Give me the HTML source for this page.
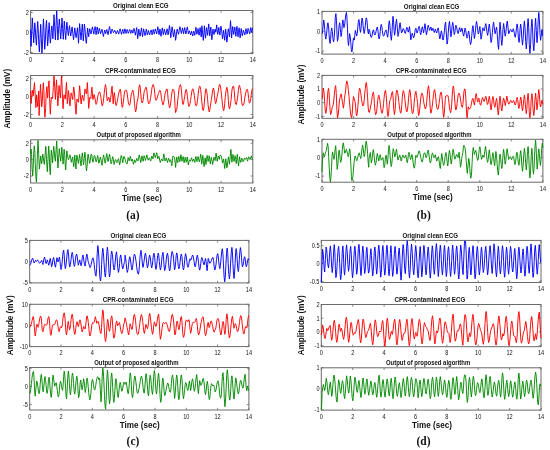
<!DOCTYPE html>
<html><head><meta charset="utf-8"><title>ECG figure</title>
<style>html,body{margin:0;padding:0;background:#fff;width:550px;height:450px;overflow:hidden}
svg text{font-family:"Liberation Sans", Arial, Helvetica, sans-serif}
svg text.lab{font-family:"Liberation Serif", "Times New Roman", serif}</style></head>
<body>
<svg width="550" height="450" viewBox="0 0 550 450" style="position:absolute;left:0;top:0">
<rect width="550" height="450" fill="#ffffff"/>
<defs><filter id="bl" x="-5%" y="-5%" width="110%" height="110%"><feGaussianBlur stdDeviation="0.3"/></filter></defs>
<rect x="30.6" y="10.5" width="222.2" height="43.1" fill="none" stroke="#6a6a6a" stroke-width="1"/>
<path d="M30.6 53.6 v-2.2 M30.6 10.5 v2.2" stroke="#6a6a6a" stroke-width="0.8"/>
<text x="30.6" y="62.2" font-size="6.3" text-anchor="middle" textLength="3.11" lengthAdjust="spacingAndGlyphs" fill="#151515">0</text>
<path d="M62.3 53.6 v-2.2 M62.3 10.5 v2.2" stroke="#6a6a6a" stroke-width="0.8"/>
<text x="62.3" y="62.2" font-size="6.3" text-anchor="middle" textLength="3.11" lengthAdjust="spacingAndGlyphs" fill="#151515">2</text>
<path d="M94.1 53.6 v-2.2 M94.1 10.5 v2.2" stroke="#6a6a6a" stroke-width="0.8"/>
<text x="94.1" y="62.2" font-size="6.3" text-anchor="middle" textLength="3.11" lengthAdjust="spacingAndGlyphs" fill="#151515">4</text>
<path d="M125.8 53.6 v-2.2 M125.8 10.5 v2.2" stroke="#6a6a6a" stroke-width="0.8"/>
<text x="125.8" y="62.2" font-size="6.3" text-anchor="middle" textLength="3.11" lengthAdjust="spacingAndGlyphs" fill="#151515">6</text>
<path d="M157.6 53.6 v-2.2 M157.6 10.5 v2.2" stroke="#6a6a6a" stroke-width="0.8"/>
<text x="157.6" y="62.2" font-size="6.3" text-anchor="middle" textLength="3.11" lengthAdjust="spacingAndGlyphs" fill="#151515">8</text>
<path d="M189.3 53.6 v-2.2 M189.3 10.5 v2.2" stroke="#6a6a6a" stroke-width="0.8"/>
<text x="189.3" y="62.2" font-size="6.3" text-anchor="middle" textLength="6.23" lengthAdjust="spacingAndGlyphs" fill="#151515">10</text>
<path d="M221.1 53.6 v-2.2 M221.1 10.5 v2.2" stroke="#6a6a6a" stroke-width="0.8"/>
<text x="221.1" y="62.2" font-size="6.3" text-anchor="middle" textLength="6.23" lengthAdjust="spacingAndGlyphs" fill="#151515">12</text>
<path d="M252.8 53.6 v-2.2 M252.8 10.5 v2.2" stroke="#6a6a6a" stroke-width="0.8"/>
<text x="252.8" y="62.2" font-size="6.3" text-anchor="middle" textLength="6.23" lengthAdjust="spacingAndGlyphs" fill="#151515">14</text>
<path d="M30.6 52.5 h2.2 M252.8 52.5 h-2.2" stroke="#6a6a6a" stroke-width="0.8"/>
<text x="28.8" y="54.8" font-size="6.3" text-anchor="end" textLength="4.98" lengthAdjust="spacingAndGlyphs" fill="#151515">-2</text>
<path d="M30.6 32.5 h2.2 M252.8 32.5 h-2.2" stroke="#6a6a6a" stroke-width="0.8"/>
<text x="28.8" y="34.8" font-size="6.3" text-anchor="end" textLength="3.11" lengthAdjust="spacingAndGlyphs" fill="#151515">0</text>
<path d="M30.6 12.5 h2.2 M252.8 12.5 h-2.2" stroke="#6a6a6a" stroke-width="0.8"/>
<text x="28.8" y="14.8" font-size="6.3" text-anchor="end" textLength="3.11" lengthAdjust="spacingAndGlyphs" fill="#151515">2</text>
<polyline fill="none" stroke="#0000ff" stroke-width="0.95" stroke-linejoin="round" filter="url(#bl)" points="30.6,29.4 31.1,46.3 31.7,32.1 32.3,17.9 33.0,30.5 33.7,42.9 34.3,32.6 34.8,22.8 35.3,28.5 35.9,39.7 36.4,45.2 37.0,33.3 37.7,21.4 38.2,28.8 38.8,44.4 39.4,52.0 40.0,38.2 40.7,24.3 41.3,38.7 41.9,53.2 42.5,44.8 43.0,27.9 43.5,18.9 44.1,33.9 44.7,49.3 45.3,42.2 45.9,27.5 46.5,20.2 47.1,33.0 47.6,45.7 48.1,40.0 48.7,28.4 49.2,22.6 49.7,33.0 50.3,43.1 50.8,38.7 51.3,30.2 51.9,25.9 52.4,32.4 52.9,38.8 53.5,26.6 54.0,14.7 54.7,27.3 55.4,39.9 56.0,25.7 56.7,10.9 57.3,25.3 57.9,40.1 58.6,29.5 59.3,19.0 60.0,29.0 60.7,39.0 61.4,28.5 62.0,18.0 62.6,28.6 63.3,39.3 63.8,30.0 64.3,21.2 65.0,30.6 65.7,39.5 66.3,30.6 66.8,22.1 67.3,25.7 67.9,32.4 68.4,35.5 68.9,30.4 69.5,25.7 70.1,30.9 70.7,36.0 71.4,31.5 72.1,26.9 72.8,33.2 73.5,39.7 74.2,33.7 74.8,27.8 75.4,32.9 76.1,37.7 76.8,32.9 77.5,27.7 78.0,35.5 78.5,43.2 79.1,33.3 79.6,23.6 80.3,31.6 81.0,39.9 81.6,32.1 82.3,24.1 82.8,32.5 83.3,41.0 83.9,32.6 84.4,24.1 85.0,29.0 85.7,38.6 86.3,43.3 87.0,35.6 87.6,28.0 88.1,32.4 88.7,36.7 89.2,32.7 89.7,28.7 90.4,31.4 91.0,33.9 91.7,30.5 92.4,26.9 93.1,30.3 93.8,34.1 94.4,30.4 95.1,26.6 95.6,30.7 96.1,34.7 96.7,30.6 97.2,27.0 97.7,30.6 98.3,34.1 98.8,31.2 99.3,28.3 100.0,31.0 100.6,33.7 101.3,31.4 102.0,29.3 102.7,32.8 103.4,36.5 104.0,33.4 104.7,30.0 105.2,31.9 105.7,33.6 106.3,31.6 106.8,29.5 107.4,32.1 108.1,34.7 108.8,30.4 109.5,26.6 110.2,30.4 110.9,33.8 111.5,31.4 112.1,29.1 112.8,30.6 113.4,32.7 114.1,31.9 114.8,30.3 115.5,31.8 116.2,33.9 116.8,32.3 117.5,30.5 118.1,32.3 118.7,34.1 119.4,31.5 120.1,28.8 120.8,31.7 121.5,34.3 122.2,31.8 122.8,29.4 123.3,31.6 123.9,33.6 124.4,31.2 124.9,28.8 125.5,31.1 126.0,33.5 126.5,31.5 127.1,29.5 127.7,31.5 128.3,33.3 129.0,31.4 129.7,29.5 130.3,31.3 130.8,33.4 131.3,31.6 131.9,29.9 132.4,31.9 132.9,33.1 133.5,30.6 134.0,28.3 134.7,31.6 135.4,35.2 136.0,31.4 136.7,27.6 137.2,33.1 137.7,38.6 138.3,33.9 138.8,29.1 139.4,32.7 140.1,36.2 140.8,31.8 141.5,27.9 142.0,32.4 142.5,36.7 143.1,32.8 143.6,28.8 144.3,32.1 145.0,35.6 145.6,32.6 146.3,29.1 146.8,31.8 147.3,35.0 147.9,32.7 148.4,30.5 149.0,32.9 149.7,34.8 150.4,32.3 151.1,29.9 151.6,32.4 152.1,34.9 152.7,32.3 153.2,29.5 153.7,31.7 154.3,34.1 154.8,31.5 155.3,28.9 156.0,31.3 156.7,33.9 157.3,30.4 157.8,26.7 158.4,30.6 159.1,34.7 159.9,29.0 160.5,32.7 161.0,36.3 161.6,32.0 162.3,27.9 162.8,31.5 163.3,34.6 163.9,31.8 164.4,29.1 165.0,32.0 165.7,34.9 166.4,32.0 167.1,28.8 167.6,31.5 168.1,34.8 168.8,30.3 169.5,25.5 170.2,31.5 170.8,37.7 171.4,32.4 172.1,26.8 172.8,31.6 173.5,36.8 174.0,33.3 174.5,29.6 175.1,34.9 175.6,40.3 176.1,37.1 176.7,31.4 177.2,29.1 177.8,31.9 178.5,34.3 179.2,30.4 179.9,26.7 180.6,29.8 181.3,33.5 181.9,31.0 182.5,27.9 183.1,31.0 183.6,33.9 184.1,30.8 184.7,27.6 185.3,30.6 185.9,34.0 186.6,30.4 187.3,26.9 187.9,30.6 188.4,33.9 188.9,32.2 189.5,30.8 190.0,32.7 190.5,34.9 191.1,33.2 191.6,31.2 192.1,33.8 192.7,36.0 193.2,33.6 193.7,31.1 194.3,33.2 194.8,35.3 195.3,31.3 195.9,27.3 196.4,30.7 196.9,34.2 197.5,31.3 198.0,28.5 198.5,32.0 199.1,35.2 199.6,31.3 200.1,27.6 200.7,32.2 201.2,36.9 201.9,25.8 202.6,32.9 203.3,40.4 203.9,32.9 204.4,25.8 204.9,32.1 205.5,38.2 206.0,32.8 206.5,27.6 207.1,31.5 207.6,35.3 208.1,29.8 208.7,23.9 209.2,29.7 209.7,35.9 210.3,31.7 210.8,27.1 211.3,33.3 211.9,39.7 212.4,34.3 212.9,29.1 213.5,31.7 214.0,34.6 214.5,31.9 215.1,29.1 215.8,32.3 216.7,24.9 217.2,29.8 217.7,34.4 218.3,30.8 218.8,27.4 219.3,31.5 219.9,35.1 220.4,30.5 220.9,26.2 221.5,29.0 222.0,33.9 222.5,38.8 223.1,34.4 223.6,30.2 224.1,35.4 224.7,40.3 225.2,34.7 225.7,29.0 226.3,35.3 226.8,42.1 227.3,39.0 227.9,32.1 228.4,28.7 228.9,32.6 229.5,36.9 230.0,29.1 230.5,20.7 231.1,29.1 231.6,37.9 232.1,32.2 232.7,26.5 233.2,30.6 233.7,34.4 234.3,30.6 234.8,27.1 235.3,31.8 235.9,36.3 236.4,31.3 236.9,26.3 237.5,31.6 238.0,36.8 238.5,32.3 239.1,27.8 239.6,32.8 240.1,37.9 240.7,33.4 241.2,28.6 241.7,32.1 242.3,35.8 242.8,33.2 243.3,30.2 243.9,31.5 244.4,34.0 244.9,34.9 245.5,31.5 246.0,28.6 246.5,31.8 247.1,34.1 247.6,31.1 248.1,28.4 248.7,29.6 249.2,32.3 249.7,33.8 250.3,30.7 250.8,27.6 251.3,30.2 251.9,32.4 252.4,28.0 252.8,28.1"/>
<text x="140.8" y="7.9" font-size="6.6" font-weight="bold" text-anchor="middle" textLength="55.6" lengthAdjust="spacingAndGlyphs" fill="#111">Original clean ECG</text>
<rect x="30.6" y="75.5" width="222.2" height="42.8" fill="none" stroke="#6a6a6a" stroke-width="1"/>
<path d="M30.6 118.3 v-2.2 M30.6 75.5 v2.2" stroke="#6a6a6a" stroke-width="0.8"/>
<text x="30.6" y="126.9" font-size="6.3" text-anchor="middle" textLength="3.11" lengthAdjust="spacingAndGlyphs" fill="#151515">0</text>
<path d="M62.3 118.3 v-2.2 M62.3 75.5 v2.2" stroke="#6a6a6a" stroke-width="0.8"/>
<text x="62.3" y="126.9" font-size="6.3" text-anchor="middle" textLength="3.11" lengthAdjust="spacingAndGlyphs" fill="#151515">2</text>
<path d="M94.1 118.3 v-2.2 M94.1 75.5 v2.2" stroke="#6a6a6a" stroke-width="0.8"/>
<text x="94.1" y="126.9" font-size="6.3" text-anchor="middle" textLength="3.11" lengthAdjust="spacingAndGlyphs" fill="#151515">4</text>
<path d="M125.8 118.3 v-2.2 M125.8 75.5 v2.2" stroke="#6a6a6a" stroke-width="0.8"/>
<text x="125.8" y="126.9" font-size="6.3" text-anchor="middle" textLength="3.11" lengthAdjust="spacingAndGlyphs" fill="#151515">6</text>
<path d="M157.6 118.3 v-2.2 M157.6 75.5 v2.2" stroke="#6a6a6a" stroke-width="0.8"/>
<text x="157.6" y="126.9" font-size="6.3" text-anchor="middle" textLength="3.11" lengthAdjust="spacingAndGlyphs" fill="#151515">8</text>
<path d="M189.3 118.3 v-2.2 M189.3 75.5 v2.2" stroke="#6a6a6a" stroke-width="0.8"/>
<text x="189.3" y="126.9" font-size="6.3" text-anchor="middle" textLength="6.23" lengthAdjust="spacingAndGlyphs" fill="#151515">10</text>
<path d="M221.1 118.3 v-2.2 M221.1 75.5 v2.2" stroke="#6a6a6a" stroke-width="0.8"/>
<text x="221.1" y="126.9" font-size="6.3" text-anchor="middle" textLength="6.23" lengthAdjust="spacingAndGlyphs" fill="#151515">12</text>
<path d="M252.8 118.3 v-2.2 M252.8 75.5 v2.2" stroke="#6a6a6a" stroke-width="0.8"/>
<text x="252.8" y="126.9" font-size="6.3" text-anchor="middle" textLength="6.23" lengthAdjust="spacingAndGlyphs" fill="#151515">14</text>
<path d="M30.6 114.5 h2.2 M252.8 114.5 h-2.2" stroke="#6a6a6a" stroke-width="0.8"/>
<text x="28.8" y="116.8" font-size="6.3" text-anchor="end" textLength="4.98" lengthAdjust="spacingAndGlyphs" fill="#151515">-2</text>
<path d="M30.6 96.6 h2.2 M252.8 96.6 h-2.2" stroke="#6a6a6a" stroke-width="0.8"/>
<text x="28.8" y="98.9" font-size="6.3" text-anchor="end" textLength="3.11" lengthAdjust="spacingAndGlyphs" fill="#151515">0</text>
<path d="M30.6 78.7 h2.2 M252.8 78.7 h-2.2" stroke="#6a6a6a" stroke-width="0.8"/>
<text x="28.8" y="81.0" font-size="6.3" text-anchor="end" textLength="3.11" lengthAdjust="spacingAndGlyphs" fill="#151515">2</text>
<polyline fill="none" stroke="#ff0000" stroke-width="0.95" stroke-linejoin="round" filter="url(#bl)" points="30.6,90.7 31.1,103.5 31.7,97.0 32.3,90.2 33.2,95.9 33.8,89.2 34.5,82.6 35.2,95.3 35.9,107.7 36.6,94.9 37.1,100.5 37.7,106.5 38.2,99.0 38.7,91.2 39.1,115.6 39.8,99.4 40.5,84.4 41.1,95.5 41.7,106.9 42.3,101.8 42.8,89.9 43.3,82.8 43.9,90.7 44.4,108.8 44.9,117.2 45.6,108.5 46.2,93.3 46.9,86.6 47.6,98.1 48.3,88.5 49.0,80.8 49.6,98.4 50.3,114.2 50.8,104.8 51.3,97.0 52.0,98.5 52.6,98.4 53.3,87.4 54.0,75.8 54.7,86.9 55.4,99.4 55.9,89.6 56.5,79.8 57.2,93.0 57.9,105.8 58.5,95.5 59.0,85.5 59.7,91.7 60.4,98.0 60.9,87.1 61.5,75.8 62.0,83.5 62.5,99.7 63.1,108.7 63.9,94.8 64.6,95.4 65.2,99.1 65.8,91.7 66.5,82.4 67.3,103.6 67.9,97.7 68.4,90.6 68.9,94.1 69.5,102.0 70.0,105.9 70.5,99.5 71.1,92.8 71.6,93.5 72.1,96.9 72.7,99.6 73.2,93.2 73.7,87.0 74.3,90.7 74.9,99.4 75.5,109.5 76.1,114.3 76.9,99.0 77.5,100.0 78.0,101.7 78.5,102.1 79.1,93.5 79.6,85.7 80.1,91.1 80.7,100.4 81.2,104.0 81.7,98.9 82.3,95.2 82.8,97.1 83.3,99.5 83.9,100.7 84.4,95.0 84.9,88.9 85.6,90.5 86.3,93.8 86.9,89.0 87.4,82.5 88.0,94.5 88.7,108.4 89.2,103.5 89.7,97.5 90.3,97.6 90.8,98.5 91.3,93.5 91.9,87.2 92.4,92.9 92.9,99.5 93.5,97.0 94.0,94.5 94.5,96.1 95.1,99.0 95.6,102.4 96.1,104.4 96.7,103.4 97.2,100.2 97.7,96.9 98.3,94.3 98.8,93.1 99.3,91.9 99.9,92.1 100.4,94.3 100.9,97.4 101.5,101.9 102.0,105.5 102.5,105.8 103.1,102.9 103.7,98.1 104.3,92.6 104.9,87.3 105.5,84.5 106.1,87.9 106.7,96.0 107.3,100.8 107.9,99.5 108.4,97.5 108.9,97.3 109.5,100.1 110.0,102.2 110.5,99.3 111.1,94.7 111.6,89.0 112.1,86.2 112.7,96.0 113.2,103.7 113.7,97.0 114.3,92.6 114.8,96.0 115.3,101.7 115.9,105.2 116.4,105.4 116.9,103.2 117.5,99.9 118.0,97.3 118.5,94.2 119.1,92.0 119.6,90.5 120.1,89.2 120.7,91.0 121.2,97.4 121.7,104.5 122.3,107.4 122.8,106.0 123.3,102.0 123.9,97.2 124.4,92.9 124.9,90.9 125.5,90.2 126.0,90.2 126.5,90.4 127.1,93.0 127.8,98.6 128.4,102.9 129.0,104.8 129.6,105.3 130.1,103.6 130.7,99.2 131.2,94.9 131.8,92.9 132.4,91.1 132.9,90.2 133.5,92.5 134.0,97.1 134.5,103.5 135.1,109.2 135.6,111.8 136.1,110.2 136.7,105.2 137.2,101.2 137.7,100.0 138.4,95.0 139.0,87.1 139.7,84.7 140.2,87.1 140.8,93.8 141.4,100.6 142.0,103.0 142.5,102.5 143.1,100.4 143.6,96.1 144.1,92.2 144.7,90.3 145.2,88.9 145.7,87.4 146.3,87.4 146.8,90.1 147.3,95.0 147.9,100.2 148.4,103.4 148.9,103.8 149.5,102.9 150.0,101.1 150.5,98.4 151.1,94.9 151.6,90.3 152.1,87.2 152.7,85.1 153.2,84.5 153.7,85.8 154.3,88.7 154.8,93.8 155.3,98.3 155.9,100.3 156.4,100.1 156.9,98.9 157.5,96.8 158.0,94.7 158.5,93.5 159.1,91.9 159.6,90.6 160.1,90.4 160.7,92.4 161.2,96.0 161.7,99.3 162.3,102.8 162.8,104.8 163.3,104.5 163.9,101.9 164.4,98.3 164.9,94.7 165.5,92.2 166.0,90.8 166.5,89.2 167.1,89.0 167.6,92.7 168.1,98.7 168.7,103.1 169.2,106.4 169.7,107.9 170.3,105.7 170.8,102.1 171.3,97.3 171.9,93.0 172.4,90.4 172.9,89.1 173.5,90.3 174.0,90.4 174.5,95.8 175.1,107.6 175.6,112.6 176.1,111.0 176.7,109.4 177.2,106.1 177.7,100.8 178.3,95.5 178.8,90.7 179.3,87.4 179.9,85.9 180.4,84.5 180.9,85.9 181.5,91.2 182.0,97.8 182.5,103.1 183.1,104.5 183.6,102.9 184.1,99.8 184.7,96.4 185.2,93.1 185.7,90.2 186.3,89.4 186.8,91.5 187.3,95.8 187.9,100.3 188.4,104.7 188.9,106.6 189.5,105.6 190.0,103.8 190.5,100.7 191.1,96.5 191.6,92.9 192.1,90.1 192.7,88.8 193.2,89.3 193.7,91.8 194.3,95.4 194.8,99.6 195.3,103.6 195.9,105.6 196.4,105.8 196.9,104.4 197.5,100.7 198.0,95.8 198.5,90.9 199.1,87.7 199.6,86.2 200.1,86.5 200.7,89.5 201.2,94.7 201.7,100.7 202.3,106.3 202.8,109.9 203.3,110.5 203.9,107.7 204.4,102.0 204.9,95.9 205.5,90.9 206.0,88.7 206.5,90.3 207.1,94.1 207.6,99.3 208.1,104.8 208.7,109.6 209.2,111.9 209.7,110.4 210.3,106.8 210.8,103.1 211.3,99.6 211.9,96.1 212.4,92.3 212.9,89.4 213.5,88.0 214.0,90.0 214.5,95.7 215.1,101.4 215.6,103.6 216.1,102.2 216.7,99.3 217.2,96.5 217.7,93.9 218.3,91.2 218.8,87.7 219.3,84.7 219.9,84.5 220.4,85.9 220.9,89.6 221.5,94.9 222.0,100.1 222.5,104.9 223.1,108.9 223.6,110.7 224.1,109.2 224.7,103.7 225.2,97.6 225.7,93.2 226.3,89.5 226.8,87.3 227.3,88.6 227.9,93.7 228.4,100.7 228.9,107.2 229.5,108.9 230.0,107.0 230.5,104.0 231.1,99.7 231.6,94.0 232.1,89.0 232.7,87.0 233.2,86.1 233.7,86.5 234.3,91.5 234.8,98.5 235.3,102.8 235.9,104.4 236.4,104.6 236.9,101.7 237.5,97.8 238.0,94.1 238.5,89.2 239.1,85.6 239.6,85.5 240.1,87.9 240.7,90.5 241.2,95.1 241.7,101.4 242.3,105.5 242.8,105.6 243.3,104.9 243.9,104.0 244.4,101.2 244.9,97.0 245.5,94.0 246.0,91.8 246.5,90.1 247.1,89.2 247.6,90.2 248.1,93.4 248.7,98.4 249.2,102.7 249.7,103.0 250.3,101.2 250.8,98.4 251.4,94.2 252.0,89.7 252.5,88.6 252.8,89.1"/>
<text x="140.5" y="72.9" font-size="6.6" font-weight="bold" text-anchor="middle" textLength="70.9" lengthAdjust="spacingAndGlyphs" fill="#111">CPR-contaminated ECG</text>
<rect x="30.6" y="139.8" width="222.2" height="43.2" fill="none" stroke="#6a6a6a" stroke-width="1"/>
<path d="M30.6 183.0 v-2.2 M30.6 139.8 v2.2" stroke="#6a6a6a" stroke-width="0.8"/>
<text x="30.6" y="191.6" font-size="6.3" text-anchor="middle" textLength="3.11" lengthAdjust="spacingAndGlyphs" fill="#151515">0</text>
<path d="M62.3 183.0 v-2.2 M62.3 139.8 v2.2" stroke="#6a6a6a" stroke-width="0.8"/>
<text x="62.3" y="191.6" font-size="6.3" text-anchor="middle" textLength="3.11" lengthAdjust="spacingAndGlyphs" fill="#151515">2</text>
<path d="M94.1 183.0 v-2.2 M94.1 139.8 v2.2" stroke="#6a6a6a" stroke-width="0.8"/>
<text x="94.1" y="191.6" font-size="6.3" text-anchor="middle" textLength="3.11" lengthAdjust="spacingAndGlyphs" fill="#151515">4</text>
<path d="M125.8 183.0 v-2.2 M125.8 139.8 v2.2" stroke="#6a6a6a" stroke-width="0.8"/>
<text x="125.8" y="191.6" font-size="6.3" text-anchor="middle" textLength="3.11" lengthAdjust="spacingAndGlyphs" fill="#151515">6</text>
<path d="M157.6 183.0 v-2.2 M157.6 139.8 v2.2" stroke="#6a6a6a" stroke-width="0.8"/>
<text x="157.6" y="191.6" font-size="6.3" text-anchor="middle" textLength="3.11" lengthAdjust="spacingAndGlyphs" fill="#151515">8</text>
<path d="M189.3 183.0 v-2.2 M189.3 139.8 v2.2" stroke="#6a6a6a" stroke-width="0.8"/>
<text x="189.3" y="191.6" font-size="6.3" text-anchor="middle" textLength="6.23" lengthAdjust="spacingAndGlyphs" fill="#151515">10</text>
<path d="M221.1 183.0 v-2.2 M221.1 139.8 v2.2" stroke="#6a6a6a" stroke-width="0.8"/>
<text x="221.1" y="191.6" font-size="6.3" text-anchor="middle" textLength="6.23" lengthAdjust="spacingAndGlyphs" fill="#151515">12</text>
<path d="M252.8 183.0 v-2.2 M252.8 139.8 v2.2" stroke="#6a6a6a" stroke-width="0.8"/>
<text x="252.8" y="191.6" font-size="6.3" text-anchor="middle" textLength="6.23" lengthAdjust="spacingAndGlyphs" fill="#151515">14</text>
<path d="M30.6 176.0 h2.2 M252.8 176.0 h-2.2" stroke="#6a6a6a" stroke-width="0.8"/>
<text x="28.8" y="178.3" font-size="6.3" text-anchor="end" textLength="4.98" lengthAdjust="spacingAndGlyphs" fill="#151515">-2</text>
<path d="M30.6 159.6 h2.2 M252.8 159.6 h-2.2" stroke="#6a6a6a" stroke-width="0.8"/>
<text x="28.8" y="161.9" font-size="6.3" text-anchor="end" textLength="3.11" lengthAdjust="spacingAndGlyphs" fill="#151515">0</text>
<path d="M30.6 143.3 h2.2 M252.8 143.3 h-2.2" stroke="#6a6a6a" stroke-width="0.8"/>
<text x="28.8" y="145.6" font-size="6.3" text-anchor="end" textLength="3.11" lengthAdjust="spacingAndGlyphs" fill="#151515">2</text>
<polyline fill="none" stroke="#008a00" stroke-width="0.95" stroke-linejoin="round" filter="url(#bl)" points="30.6,153.6 31.1,149.1 31.6,154.7 32.1,168.1 32.7,175.9 33.2,168.5 33.7,153.6 34.3,145.8 34.8,151.1 35.3,164.6 35.9,176.8 36.4,182.1 36.9,171.8 37.5,150.6 38.0,140.4 38.7,154.6 39.4,169.1 40.0,162.7 40.7,156.0 41.2,160.3 41.7,163.7 42.3,158.5 42.8,154.2 43.3,157.3 43.9,162.4 44.4,164.4 45.1,155.1 45.8,146.3 46.5,159.3 47.3,171.7 48.0,158.8 48.7,146.0 49.2,153.2 49.7,168.0 50.3,174.7 50.8,162.3 51.3,150.2 52.0,156.4 52.6,162.9 53.1,154.5 53.7,146.4 54.2,150.5 54.8,158.0 55.4,161.3 56.0,151.1 56.7,141.0 57.3,154.5 57.9,168.0 58.6,158.2 59.3,148.6 60.0,155.0 60.7,161.1 61.3,154.3 61.8,147.2 62.4,155.2 63.1,164.1 63.6,156.5 64.1,149.3 64.7,154.7 65.2,164.7 65.7,170.0 66.3,160.0 66.8,150.8 67.3,153.6 67.9,157.4 68.4,159.6 68.9,158.5 69.5,156.4 70.0,154.8 70.7,158.4 71.4,162.3 72.0,159.1 72.7,156.9 73.2,162.2 73.7,166.7 74.3,160.6 74.8,155.1 75.3,162.5 75.9,169.0 76.4,161.6 76.9,155.1 77.5,157.8 78.0,161.8 78.5,163.4 79.1,158.4 79.6,154.4 80.3,160.4 81.0,165.9 81.6,159.8 82.3,152.9 82.9,158.4 83.5,165.0 84.2,158.8 84.9,152.3 85.5,157.3 86.0,166.6 86.5,170.8 87.1,166.2 87.6,158.0 88.1,154.2 88.7,157.0 89.2,161.1 89.7,163.3 90.3,160.6 90.8,155.9 91.3,154.0 91.9,155.7 92.4,160.0 92.9,162.3 93.5,159.9 94.0,156.5 94.5,155.4 95.1,156.7 95.6,159.9 96.1,162.0 96.7,161.0 97.2,157.7 97.7,155.5 98.3,159.3 98.8,163.3 99.3,162.2 99.9,158.8 100.4,157.0 100.9,159.1 101.5,163.1 102.0,165.3 102.5,162.4 103.1,157.2 103.6,154.9 104.1,157.5 104.7,161.4 105.2,163.2 105.7,160.9 106.3,155.8 106.8,153.6 107.4,157.8 108.1,161.6 108.8,158.0 109.5,154.1 110.0,156.5 110.5,161.5 111.1,163.8 111.6,162.8 112.1,159.3 112.7,156.6 113.4,159.9 114.1,164.4 114.7,162.0 115.3,159.5 115.9,160.0 116.4,161.4 116.9,162.7 117.5,161.8 118.0,159.6 118.5,158.7 119.1,161.8 119.6,165.0 120.1,162.9 120.7,158.1 121.2,155.4 121.7,156.1 122.3,159.8 122.8,162.7 123.3,159.6 123.9,156.4 124.4,157.0 124.9,158.7 125.5,160.8 126.0,162.5 126.5,163.6 127.1,164.0 127.6,161.0 128.1,157.6 128.7,158.9 129.2,160.9 129.7,159.0 130.3,156.3 130.8,158.1 131.3,161.1 131.9,160.1 132.4,159.0 132.9,161.9 133.5,164.3 134.0,162.2 134.5,159.9 135.1,161.2 135.6,162.5 136.1,160.7 136.7,158.4 137.3,159.6 137.9,161.0 138.6,157.9 139.3,154.9 140.0,158.1 140.7,162.5 141.4,159.6 142.0,155.8 142.5,158.7 143.1,161.3 143.6,158.7 144.1,155.7 144.8,157.2 145.4,160.4 146.1,158.1 146.8,154.8 147.5,157.5 148.2,160.2 148.8,158.8 149.5,157.8 150.1,159.8 150.7,161.1 151.3,158.6 151.8,156.0 152.3,157.0 152.9,158.8 153.4,156.2 153.9,152.9 154.6,154.9 155.3,157.7 156.0,155.3 156.7,152.7 157.3,156.1 157.8,158.8 158.4,156.6 159.1,156.4 159.7,160.5 160.3,162.5 161.0,160.0 161.7,159.1 162.3,160.6 162.8,161.0 163.3,157.0 163.9,153.9 164.4,157.6 164.9,161.0 165.6,159.7 166.3,157.9 166.9,160.3 167.4,162.5 168.0,160.4 168.7,158.3 169.2,160.2 169.7,161.8 170.3,160.1 170.8,159.6 171.3,163.5 171.9,165.7 172.4,160.3 172.9,156.0 173.5,156.8 174.0,156.9 174.5,157.3 175.1,162.5 175.6,167.4 176.1,162.1 176.7,156.9 177.2,160.1 177.7,162.7 178.3,159.3 178.8,156.4 179.3,159.1 179.9,161.8 180.4,158.0 180.9,154.7 181.5,158.0 182.0,161.2 182.5,159.1 183.1,156.6 183.6,159.7 184.1,162.7 184.7,159.9 185.2,157.3 185.7,159.9 186.3,162.3 186.8,159.3 187.3,157.0 187.9,161.4 188.4,165.0 188.9,161.9 189.5,159.8 190.0,160.9 190.5,161.2 191.1,159.2 191.6,157.8 192.1,159.7 192.7,161.5 193.2,160.5 193.7,159.0 194.3,160.6 194.8,162.4 195.3,159.3 195.9,156.4 196.4,159.2 196.9,161.6 197.5,158.8 198.0,156.5 198.7,159.3 199.4,162.0 200.0,158.8 200.7,154.1 201.2,158.5 201.7,164.2 202.3,160.4 202.8,155.4 203.4,160.4 204.1,166.6 204.6,162.7 205.1,157.8 206.0,164.5 206.5,159.8 207.1,155.4 207.6,158.6 208.1,161.5 208.7,158.7 209.2,155.7 209.7,159.3 210.3,163.8 210.8,161.0 211.3,157.4 212.0,160.6 212.6,164.5 213.3,160.9 214.0,157.2 214.5,159.4 215.1,160.6 215.6,156.8 216.1,153.1 216.7,157.2 217.2,161.3 217.7,158.6 218.3,156.1 218.8,157.5 219.3,159.4 220.1,155.2 220.8,155.3 221.5,156.5 222.0,160.1 222.5,163.1 223.1,161.2 223.6,158.9 224.1,163.2 224.7,168.5 225.2,164.2 225.7,158.7 226.3,162.9 226.8,167.8 227.3,166.0 227.9,160.7 228.4,156.9 228.9,160.2 229.5,164.2 230.2,156.8 230.9,149.4 231.4,156.0 231.9,162.2 232.5,158.2 233.0,154.4 233.5,157.7 234.1,161.4 234.6,158.8 235.1,155.7 235.7,159.4 236.2,163.5 236.7,159.3 237.3,154.3 237.9,160.1 238.5,165.9 239.1,161.2 239.6,156.8 240.1,159.7 240.7,162.4 241.3,160.6 241.9,158.2 242.5,159.3 243.0,161.8 243.7,160.8 244.4,158.2 244.9,158.3 245.5,159.3 246.0,158.4 246.5,157.5 247.1,159.5 247.6,161.2 248.1,158.8 248.7,156.8 249.2,158.1 249.7,159.3 250.3,159.1 250.8,157.4 251.3,155.8 252.2,159.1 252.8,159.2"/>
<text x="138.7" y="137.2" font-size="6.6" font-weight="bold" text-anchor="middle" textLength="84.3" lengthAdjust="spacingAndGlyphs" fill="#111">Output of proposed algorithm</text>
<text x="142.0" y="201.4" font-size="8.8" font-weight="bold" text-anchor="middle" textLength="40" lengthAdjust="spacingAndGlyphs" fill="#111">Time (sec)</text>
<text transform="translate(9.5,98.7) rotate(-90)" font-size="8.6" font-weight="bold" text-anchor="middle" textLength="59.8" lengthAdjust="spacingAndGlyphs" fill="#111">Amplitude (mV)</text>
<text class="lab" x="133" y="218.6" font-size="11.5" font-weight="bold" text-anchor="middle" fill="#111">(a)</text>
<rect x="322.0" y="11.4" width="220.9" height="42.7" fill="none" stroke="#6a6a6a" stroke-width="1"/>
<path d="M322.0 54.1 v-2.2 M322.0 11.4 v2.2" stroke="#6a6a6a" stroke-width="0.8"/>
<text x="322.0" y="62.7" font-size="6.3" text-anchor="middle" textLength="3.11" lengthAdjust="spacingAndGlyphs" fill="#151515">0</text>
<path d="M353.6 54.1 v-2.2 M353.6 11.4 v2.2" stroke="#6a6a6a" stroke-width="0.8"/>
<text x="353.6" y="62.7" font-size="6.3" text-anchor="middle" textLength="3.11" lengthAdjust="spacingAndGlyphs" fill="#151515">2</text>
<path d="M385.1 54.1 v-2.2 M385.1 11.4 v2.2" stroke="#6a6a6a" stroke-width="0.8"/>
<text x="385.1" y="62.7" font-size="6.3" text-anchor="middle" textLength="3.11" lengthAdjust="spacingAndGlyphs" fill="#151515">4</text>
<path d="M416.7 54.1 v-2.2 M416.7 11.4 v2.2" stroke="#6a6a6a" stroke-width="0.8"/>
<text x="416.7" y="62.7" font-size="6.3" text-anchor="middle" textLength="3.11" lengthAdjust="spacingAndGlyphs" fill="#151515">6</text>
<path d="M448.2 54.1 v-2.2 M448.2 11.4 v2.2" stroke="#6a6a6a" stroke-width="0.8"/>
<text x="448.2" y="62.7" font-size="6.3" text-anchor="middle" textLength="3.11" lengthAdjust="spacingAndGlyphs" fill="#151515">8</text>
<path d="M479.8 54.1 v-2.2 M479.8 11.4 v2.2" stroke="#6a6a6a" stroke-width="0.8"/>
<text x="479.8" y="62.7" font-size="6.3" text-anchor="middle" textLength="6.23" lengthAdjust="spacingAndGlyphs" fill="#151515">10</text>
<path d="M511.3 54.1 v-2.2 M511.3 11.4 v2.2" stroke="#6a6a6a" stroke-width="0.8"/>
<text x="511.3" y="62.7" font-size="6.3" text-anchor="middle" textLength="6.23" lengthAdjust="spacingAndGlyphs" fill="#151515">12</text>
<path d="M542.9 54.1 v-2.2 M542.9 11.4 v2.2" stroke="#6a6a6a" stroke-width="0.8"/>
<text x="542.9" y="62.7" font-size="6.3" text-anchor="middle" textLength="6.23" lengthAdjust="spacingAndGlyphs" fill="#151515">14</text>
<path d="M322.0 51.1 h2.2 M542.9 51.1 h-2.2" stroke="#6a6a6a" stroke-width="0.8"/>
<text x="320.2" y="53.4" font-size="6.3" text-anchor="end" textLength="4.98" lengthAdjust="spacingAndGlyphs" fill="#151515">-1</text>
<path d="M322.0 31.3 h2.2 M542.9 31.3 h-2.2" stroke="#6a6a6a" stroke-width="0.8"/>
<text x="320.2" y="33.6" font-size="6.3" text-anchor="end" textLength="3.11" lengthAdjust="spacingAndGlyphs" fill="#151515">0</text>
<path d="M322.0 11.4 h2.2 M542.9 11.4 h-2.2" stroke="#6a6a6a" stroke-width="0.8"/>
<text x="320.2" y="13.7" font-size="6.3" text-anchor="end" textLength="3.11" lengthAdjust="spacingAndGlyphs" fill="#151515">1</text>
<polyline fill="none" stroke="#0000ff" stroke-width="0.95" stroke-linejoin="round" filter="url(#bl)" points="322.0,33.6 322.3,33.6 323.0,26.8 323.7,20.1 324.2,22.9 324.7,29.5 325.3,36.4 325.8,39.1 326.3,36.6 326.9,30.7 327.4,25.1 327.9,22.8 328.5,25.9 329.0,33.3 329.5,40.7 330.1,43.4 330.6,39.3 331.1,31.7 331.7,28.0 332.3,31.6 332.9,38.5 333.6,41.9 334.2,37.6 334.8,27.5 335.3,17.4 335.9,13.6 336.5,20.7 337.0,34.4 337.5,41.3 338.1,38.2 338.6,32.0 339.1,25.6 339.7,22.7 340.4,29.8 341.1,36.5 341.7,32.5 342.3,24.2 342.9,19.9 343.4,23.6 343.9,27.7 344.5,25.8 345.2,20.1 345.8,14.8 346.4,12.4 346.9,17.2 347.5,29.1 348.0,40.9 348.5,45.5 349.1,39.4 349.6,33.6 350.2,36.4 350.8,42.8 351.3,49.3 351.9,51.9 352.5,48.0 353.0,41.2 353.5,37.9 354.3,40.1 354.8,35.3 355.3,30.4 356.0,33.1 356.7,35.9 357.3,33.3 357.8,27.3 358.3,21.9 358.9,19.5 359.4,22.7 359.9,29.2 360.5,32.4 361.0,29.0 361.5,21.8 362.1,18.0 362.6,20.1 363.1,25.7 363.7,31.5 364.2,33.5 364.7,31.0 365.3,25.7 365.8,20.2 366.3,17.8 366.9,19.9 367.4,25.9 367.9,31.8 368.5,34.0 369.0,29.2 369.6,30.4 370.2,33.7 370.8,36.6 371.3,37.5 372.0,35.8 372.6,32.0 373.3,29.8 373.8,31.0 374.3,33.7 374.9,35.0 375.5,33.8 376.1,31.1 376.7,28.3 377.3,27.0 377.9,30.1 378.5,36.1 379.1,38.9 379.7,36.9 380.2,31.7 380.7,26.4 381.3,24.4 381.8,26.2 382.3,30.5 382.9,34.5 383.4,36.2 383.9,35.7 384.5,34.1 385.0,32.0 385.5,30.4 386.1,29.9 386.6,31.6 387.1,35.2 387.7,37.2 388.2,33.4 388.7,25.0 389.3,20.8 389.8,23.9 390.3,30.7 390.9,37.6 391.4,40.3 391.9,34.2 392.5,22.4 393.0,16.3 393.5,21.0 394.1,30.5 394.6,35.3 395.2,31.2 395.9,23.2 396.5,19.2 397.3,27.7 398.0,36.4 398.5,34.6 399.1,29.9 399.6,24.9 400.1,22.7 400.8,27.9 401.5,32.9 402.1,32.0 402.7,29.9 403.3,28.5 404.0,29.9 404.6,32.5 405.3,33.5 405.8,31.9 406.3,29.1 406.9,27.3 407.6,29.6 408.3,32.2 408.9,29.6 409.5,26.6 410.2,33.0 410.8,39.9 411.5,36.6 412.2,33.2 412.9,35.3 413.6,37.8 414.2,36.4 414.8,32.8 415.3,29.4 415.9,28.2 416.5,30.8 417.0,33.1 417.5,32.1 418.1,29.7 418.6,27.4 419.1,26.3 419.7,28.4 420.2,32.6 420.7,34.7 421.3,32.6 421.8,28.6 422.3,26.8 423.0,29.8 423.6,32.9 424.3,28.4 425.0,23.7 425.7,29.3 426.4,34.9 427.0,32.3 427.6,27.6 428.2,25.2 428.9,27.6 429.6,30.4 430.2,28.9 430.9,27.0 431.4,28.8 431.9,30.7 432.5,28.9 433.0,28.2 433.6,30.7 434.3,32.5 434.8,30.9 435.3,29.2 436.0,31.2 436.7,33.0 437.4,30.4 438.1,27.9 438.7,30.6 439.3,36.1 439.9,39.0 440.6,35.0 441.3,30.9 441.9,33.2 442.5,38.0 443.1,40.1 443.7,37.4 444.4,30.9 445.0,24.6 445.6,22.0 446.3,33.0 447.1,44.1 447.7,40.5 448.3,32.1 448.9,24.3 449.5,21.3 450.2,28.9 450.9,36.8 451.5,33.4 452.1,26.1 452.7,22.4 453.3,25.7 453.8,31.7 454.3,34.6 454.9,32.4 455.4,27.5 455.9,25.2 456.5,26.6 457.0,29.4 457.5,32.3 458.1,33.6 458.6,32.0 459.1,29.0 459.7,27.6 460.2,29.7 460.7,31.8 461.3,30.1 461.8,28.1 462.4,29.9 463.1,34.1 463.7,36.1 464.4,32.2 465.0,28.0 465.5,29.3 466.1,33.0 466.6,36.6 467.1,38.2 467.7,36.4 468.2,32.7 468.7,31.0 469.3,34.5 469.9,41.3 470.5,44.6 471.2,42.0 471.8,35.4 472.4,28.4 473.0,25.6 473.7,32.3 474.4,38.5 474.9,35.9 475.5,30.1 476.0,24.1 476.5,21.4 477.1,24.4 477.7,30.5 478.3,34.0 478.9,32.6 479.4,28.7 479.9,26.5 480.5,32.8 481.0,39.2 481.6,36.6 482.3,30.8 482.9,27.8 483.6,29.5 484.2,31.0 484.7,28.9 485.3,25.3 485.8,23.6 486.4,26.7 487.0,32.6 487.6,35.4 488.2,32.5 488.8,26.7 489.3,24.0 489.9,28.6 490.5,37.7 491.1,42.5 491.7,39.8 492.4,32.6 493.0,25.1 493.6,22.2 494.3,28.0 495.1,33.8 495.8,30.6 496.5,27.2 497.0,30.5 497.5,38.1 498.1,46.0 498.6,49.3 499.3,35.6 500.0,22.2 500.6,28.0 501.2,39.5 501.8,45.4 502.4,39.9 503.0,29.1 503.6,23.5 504.1,26.8 504.7,33.4 505.2,36.2 505.7,34.1 506.3,28.6 506.8,23.1 507.3,21.1 508.0,27.1 508.6,33.8 509.3,32.9 509.9,30.5 510.5,29.4 511.1,30.0 511.6,31.4 512.1,32.0 512.7,30.4 513.2,28.8 513.7,30.1 514.3,33.3 514.8,36.2 515.3,37.3 515.9,34.0 516.5,27.6 517.1,23.9 517.8,28.5 518.4,38.1 519.1,42.4 519.6,37.5 520.1,28.5 520.7,24.1 521.3,29.3 521.9,39.6 522.5,45.1 523.1,39.2 523.8,26.8 524.4,20.9 525.0,27.8 525.7,41.6 526.3,48.9 526.9,41.5 527.5,26.1 528.1,18.6 528.7,27.4 529.3,44.7 529.9,53.4 530.6,44.7 531.2,27.9 531.9,19.2 532.5,27.1 533.1,43.1 533.8,50.8 534.4,42.9 535.0,26.6 535.6,18.3 536.3,30.6 537.0,42.7 537.6,35.2 538.2,20.0 538.8,12.4 539.4,19.7 540.0,33.5 540.6,40.3 541.3,34.9 542.0,29.4 542.5,35.7 542.9,35.7"/>
<text x="431.6" y="8.8" font-size="6.6" font-weight="bold" text-anchor="middle" textLength="55.6" lengthAdjust="spacingAndGlyphs" fill="#111">Original clean ECG</text>
<rect x="322.0" y="75.4" width="220.9" height="42.9" fill="none" stroke="#6a6a6a" stroke-width="1"/>
<path d="M322.0 118.3 v-2.2 M322.0 75.4 v2.2" stroke="#6a6a6a" stroke-width="0.8"/>
<text x="322.0" y="126.9" font-size="6.3" text-anchor="middle" textLength="3.11" lengthAdjust="spacingAndGlyphs" fill="#151515">0</text>
<path d="M353.6 118.3 v-2.2 M353.6 75.4 v2.2" stroke="#6a6a6a" stroke-width="0.8"/>
<text x="353.6" y="126.9" font-size="6.3" text-anchor="middle" textLength="3.11" lengthAdjust="spacingAndGlyphs" fill="#151515">2</text>
<path d="M385.1 118.3 v-2.2 M385.1 75.4 v2.2" stroke="#6a6a6a" stroke-width="0.8"/>
<text x="385.1" y="126.9" font-size="6.3" text-anchor="middle" textLength="3.11" lengthAdjust="spacingAndGlyphs" fill="#151515">4</text>
<path d="M416.7 118.3 v-2.2 M416.7 75.4 v2.2" stroke="#6a6a6a" stroke-width="0.8"/>
<text x="416.7" y="126.9" font-size="6.3" text-anchor="middle" textLength="3.11" lengthAdjust="spacingAndGlyphs" fill="#151515">6</text>
<path d="M448.2 118.3 v-2.2 M448.2 75.4 v2.2" stroke="#6a6a6a" stroke-width="0.8"/>
<text x="448.2" y="126.9" font-size="6.3" text-anchor="middle" textLength="3.11" lengthAdjust="spacingAndGlyphs" fill="#151515">8</text>
<path d="M479.8 118.3 v-2.2 M479.8 75.4 v2.2" stroke="#6a6a6a" stroke-width="0.8"/>
<text x="479.8" y="126.9" font-size="6.3" text-anchor="middle" textLength="6.23" lengthAdjust="spacingAndGlyphs" fill="#151515">10</text>
<path d="M511.3 118.3 v-2.2 M511.3 75.4 v2.2" stroke="#6a6a6a" stroke-width="0.8"/>
<text x="511.3" y="126.9" font-size="6.3" text-anchor="middle" textLength="6.23" lengthAdjust="spacingAndGlyphs" fill="#151515">12</text>
<path d="M542.9 118.3 v-2.2 M542.9 75.4 v2.2" stroke="#6a6a6a" stroke-width="0.8"/>
<text x="542.9" y="126.9" font-size="6.3" text-anchor="middle" textLength="6.23" lengthAdjust="spacingAndGlyphs" fill="#151515">14</text>
<path d="M322.0 116.3 h2.2 M542.9 116.3 h-2.2" stroke="#6a6a6a" stroke-width="0.8"/>
<text x="320.2" y="118.6" font-size="6.3" text-anchor="end" textLength="4.98" lengthAdjust="spacingAndGlyphs" fill="#151515">-1</text>
<path d="M322.0 102.6 h2.2 M542.9 102.6 h-2.2" stroke="#6a6a6a" stroke-width="0.8"/>
<text x="320.2" y="104.9" font-size="6.3" text-anchor="end" textLength="3.11" lengthAdjust="spacingAndGlyphs" fill="#151515">0</text>
<path d="M322.0 89.0 h2.2 M542.9 89.0 h-2.2" stroke="#6a6a6a" stroke-width="0.8"/>
<text x="320.2" y="91.3" font-size="6.3" text-anchor="end" textLength="3.11" lengthAdjust="spacingAndGlyphs" fill="#151515">1</text>
<path d="M322.0 75.4 h2.2 M542.9 75.4 h-2.2" stroke="#6a6a6a" stroke-width="0.8"/>
<text x="320.2" y="77.7" font-size="6.3" text-anchor="end" textLength="3.11" lengthAdjust="spacingAndGlyphs" fill="#151515">2</text>
<polyline fill="none" stroke="#ff0000" stroke-width="0.95" stroke-linejoin="round" filter="url(#bl)" points="322.0,98.5 322.3,98.4 322.8,93.2 323.3,88.1 324.0,92.0 324.6,101.3 325.2,109.9 325.8,113.3 326.3,111.2 326.9,105.6 327.4,97.9 327.9,91.3 328.5,88.4 329.0,91.9 329.5,100.9 330.1,110.2 330.6,114.5 331.1,113.6 331.7,110.4 332.2,107.2 332.7,106.2 333.3,104.3 333.9,99.1 334.5,92.9 335.1,87.7 335.7,85.6 336.3,93.8 336.9,109.6 337.5,117.9 338.1,115.7 338.8,108.5 339.4,100.9 340.0,97.7 340.5,96.0 341.1,93.9 341.7,97.3 342.3,101.3 342.9,104.9 343.4,108.2 343.9,105.0 344.5,98.4 345.0,94.7 345.6,91.0 346.2,84.1 346.8,80.9 347.4,82.5 347.9,85.7 348.4,90.6 349.0,96.4 349.5,102.2 350.1,108.7 350.6,113.9 351.2,116.9 351.7,117.8 352.3,112.0 352.9,101.6 353.5,96.6 354.1,98.3 354.6,99.8 355.1,102.0 355.7,107.8 356.2,113.8 356.7,115.8 357.3,112.8 357.9,106.2 358.5,98.4 359.0,91.5 359.6,88.2 360.1,89.3 360.6,92.4 361.1,95.8 361.6,99.3 362.1,102.8 362.6,105.2 363.1,106.0 363.7,104.8 364.2,100.2 364.7,94.1 365.3,88.5 365.8,84.0 366.3,82.5 366.9,87.0 367.6,97.6 368.2,108.0 368.8,112.1 369.5,112.3 370.1,109.3 370.6,105.9 371.1,104.2 371.7,100.5 372.2,96.7 372.7,93.8 373.3,92.1 373.9,95.2 374.4,103.5 375.0,111.5 375.6,114.7 376.1,114.0 376.7,111.1 377.2,106.0 377.7,100.5 378.3,96.5 378.8,95.2 379.3,96.9 379.9,100.3 380.4,104.6 380.9,109.0 381.5,112.1 382.0,113.3 382.5,112.2 383.0,108.8 383.5,103.7 384.0,98.6 384.5,94.2 385.0,91.2 385.5,90.4 386.1,94.4 386.8,104.0 387.4,113.1 388.0,116.6 388.6,113.4 389.2,105.3 389.8,100.5 390.3,99.8 390.9,98.1 391.4,95.2 391.9,92.6 392.5,91.6 393.1,97.2 393.7,108.8 394.4,114.5 395.0,111.1 395.6,102.6 396.1,93.7 396.7,90.1 397.2,90.7 397.7,92.8 398.3,97.0 398.8,101.6 399.3,105.7 399.8,109.5 400.3,112.3 400.8,113.2 401.3,110.8 401.8,104.6 402.3,97.6 402.8,92.4 403.3,90.5 403.8,91.6 404.4,94.7 404.9,99.4 405.4,104.0 405.9,108.1 406.4,111.1 406.9,111.9 407.4,110.2 408.0,105.4 408.6,98.3 409.2,92.3 409.7,89.7 410.3,92.0 410.9,98.5 411.4,106.2 412.0,111.9 412.5,113.7 413.1,112.7 413.7,108.6 414.2,102.4 414.8,96.5 415.4,92.5 415.9,91.2 416.5,95.4 417.0,98.7 417.5,102.4 418.1,111.1 418.6,115.6 419.1,113.9 419.7,109.1 420.2,103.8 420.7,98.9 421.3,94.8 421.8,93.1 422.3,93.5 422.9,95.7 423.4,99.5 423.9,103.2 424.5,106.2 425.0,108.3 425.5,109.0 426.1,106.7 426.7,101.4 427.3,94.7 427.9,88.4 428.5,85.8 429.1,90.1 429.7,99.8 430.3,109.3 430.9,113.2 431.4,111.9 431.9,108.5 432.5,103.9 433.0,99.4 433.5,94.7 434.1,90.9 434.6,89.6 435.2,92.3 435.8,98.0 436.3,103.7 436.9,107.8 437.5,109.2 438.0,109.1 438.6,107.1 439.1,103.1 439.7,98.7 440.2,94.6 440.8,92.2 441.3,92.3 441.9,96.3 442.5,104.2 443.1,112.8 443.7,117.3 444.2,114.5 444.7,106.8 445.3,99.4 445.8,96.0 446.3,95.7 446.9,95.5 447.4,95.0 447.9,95.4 448.5,98.5 449.0,103.5 449.5,107.9 450.1,111.1 450.6,112.7 451.1,110.6 451.7,104.4 452.2,96.2 452.7,89.2 453.3,86.0 453.8,88.0 454.3,94.6 454.9,102.2 455.4,108.0 455.9,110.0 456.5,108.0 457.1,103.7 457.7,98.5 458.2,94.6 458.8,93.1 459.3,93.6 459.8,95.4 460.3,98.0 460.8,101.3 461.3,104.5 461.8,106.7 462.3,107.4 462.9,104.5 463.4,98.0 463.9,91.8 464.5,89.0 465.0,89.0 465.5,93.0 466.1,103.1 466.6,113.7 467.1,117.8 467.7,112.4 468.2,106.8 469.1,109.1 469.7,108.9 470.3,107.8 470.9,106.4 471.4,103.9 471.9,100.9 472.5,98.9 473.0,98.3 473.7,102.1 474.4,105.1 475.0,101.2 475.6,95.5 476.2,93.6 476.7,96.4 477.3,100.5 477.8,102.1 478.3,99.7 478.9,98.2 479.5,100.8 480.1,104.3 480.8,105.3 481.4,102.8 482.0,99.2 482.6,97.5 483.1,99.2 483.7,101.1 484.2,101.5 484.7,100.0 485.3,97.5 485.8,96.3 486.3,97.8 486.9,101.9 487.4,104.5 488.0,103.4 488.7,99.2 489.3,96.3 489.9,100.3 490.5,107.3 491.1,110.0 491.7,105.9 492.3,99.5 492.9,96.5 493.5,99.1 494.1,104.4 494.7,107.3 495.3,105.8 495.9,101.3 496.5,98.4 497.1,102.4 497.7,110.7 498.3,115.0 498.8,110.3 499.4,100.9 500.0,96.2 500.6,100.0 501.2,107.8 501.8,111.0 502.4,107.2 503.0,100.8 503.6,98.1 504.2,100.0 504.8,103.5 505.3,105.6 506.1,101.2 506.8,96.1 507.4,98.4 508.0,102.3 508.6,104.0 509.3,103.8 509.9,102.1 510.5,100.5 511.1,100.6 511.6,101.8 512.1,102.9 512.8,101.8 513.5,100.3 514.1,101.7 514.7,104.0 515.3,105.0 515.9,103.2 516.5,99.6 517.1,97.4 517.7,99.6 518.3,105.2 518.9,108.4 519.5,106.3 520.1,100.6 520.7,97.0 521.3,100.0 521.9,107.3 522.5,110.9 523.1,106.8 523.8,99.4 524.4,95.0 525.0,99.8 525.7,109.5 526.3,113.6 526.9,108.2 527.5,98.0 528.1,93.3 528.7,99.9 529.3,112.2 529.9,117.9 530.6,111.4 531.2,99.8 531.9,93.7 532.5,98.9 533.1,109.9 533.8,115.5 534.4,110.1 535.0,99.0 535.6,93.2 536.3,101.2 537.0,109.8 537.6,105.1 538.2,95.1 538.8,89.5 539.4,94.7 540.0,103.9 540.6,107.0 541.3,103.1 542.0,100.1 542.9,104.3 542.9,104.4"/>
<text x="431.2" y="72.8" font-size="6.6" font-weight="bold" text-anchor="middle" textLength="70.9" lengthAdjust="spacingAndGlyphs" fill="#111">CPR-contaminated ECG</text>
<rect x="322.0" y="139.3" width="220.9" height="42.9" fill="none" stroke="#6a6a6a" stroke-width="1"/>
<path d="M322.0 182.2 v-2.2 M322.0 139.3 v2.2" stroke="#6a6a6a" stroke-width="0.8"/>
<text x="322.0" y="190.8" font-size="6.3" text-anchor="middle" textLength="3.11" lengthAdjust="spacingAndGlyphs" fill="#151515">0</text>
<path d="M353.6 182.2 v-2.2 M353.6 139.3 v2.2" stroke="#6a6a6a" stroke-width="0.8"/>
<text x="353.6" y="190.8" font-size="6.3" text-anchor="middle" textLength="3.11" lengthAdjust="spacingAndGlyphs" fill="#151515">2</text>
<path d="M385.1 182.2 v-2.2 M385.1 139.3 v2.2" stroke="#6a6a6a" stroke-width="0.8"/>
<text x="385.1" y="190.8" font-size="6.3" text-anchor="middle" textLength="3.11" lengthAdjust="spacingAndGlyphs" fill="#151515">4</text>
<path d="M416.7 182.2 v-2.2 M416.7 139.3 v2.2" stroke="#6a6a6a" stroke-width="0.8"/>
<text x="416.7" y="190.8" font-size="6.3" text-anchor="middle" textLength="3.11" lengthAdjust="spacingAndGlyphs" fill="#151515">6</text>
<path d="M448.2 182.2 v-2.2 M448.2 139.3 v2.2" stroke="#6a6a6a" stroke-width="0.8"/>
<text x="448.2" y="190.8" font-size="6.3" text-anchor="middle" textLength="3.11" lengthAdjust="spacingAndGlyphs" fill="#151515">8</text>
<path d="M479.8 182.2 v-2.2 M479.8 139.3 v2.2" stroke="#6a6a6a" stroke-width="0.8"/>
<text x="479.8" y="190.8" font-size="6.3" text-anchor="middle" textLength="6.23" lengthAdjust="spacingAndGlyphs" fill="#151515">10</text>
<path d="M511.3 182.2 v-2.2 M511.3 139.3 v2.2" stroke="#6a6a6a" stroke-width="0.8"/>
<text x="511.3" y="190.8" font-size="6.3" text-anchor="middle" textLength="6.23" lengthAdjust="spacingAndGlyphs" fill="#151515">12</text>
<path d="M542.9 182.2 v-2.2 M542.9 139.3 v2.2" stroke="#6a6a6a" stroke-width="0.8"/>
<text x="542.9" y="190.8" font-size="6.3" text-anchor="middle" textLength="6.23" lengthAdjust="spacingAndGlyphs" fill="#151515">14</text>
<path d="M322.0 176.1 h2.2 M542.9 176.1 h-2.2" stroke="#6a6a6a" stroke-width="0.8"/>
<text x="320.2" y="178.4" font-size="6.3" text-anchor="end" textLength="4.98" lengthAdjust="spacingAndGlyphs" fill="#151515">-1</text>
<path d="M322.0 157.7 h2.2 M542.9 157.7 h-2.2" stroke="#6a6a6a" stroke-width="0.8"/>
<text x="320.2" y="160.0" font-size="6.3" text-anchor="end" textLength="3.11" lengthAdjust="spacingAndGlyphs" fill="#151515">0</text>
<path d="M322.0 139.3 h2.2 M542.9 139.3 h-2.2" stroke="#6a6a6a" stroke-width="0.8"/>
<text x="320.2" y="141.6" font-size="6.3" text-anchor="end" textLength="3.11" lengthAdjust="spacingAndGlyphs" fill="#151515">1</text>
<polyline fill="none" stroke="#008a00" stroke-width="0.95" stroke-linejoin="round" filter="url(#bl)" points="322.0,172.2 322.6,157.3 323.3,152.8 324.2,157.0 324.7,156.1 325.3,153.6 325.8,151.8 326.4,150.5 327.0,146.4 327.6,143.4 328.2,147.0 328.7,157.3 329.3,169.1 329.8,177.8 330.4,181.9 330.9,178.3 331.5,167.3 332.0,156.4 332.5,151.9 333.3,156.1 334.0,159.4 334.6,155.2 335.2,148.4 335.7,145.7 336.5,158.0 337.2,169.4 337.9,164.3 338.5,154.9 339.1,150.1 339.7,153.1 340.2,159.6 340.7,162.4 341.3,160.3 341.8,156.1 342.3,149.7 342.9,144.3 343.4,142.9 344.0,147.6 344.7,153.2 345.2,152.9 345.8,150.6 346.4,149.4 347.0,151.0 347.6,154.5 348.2,156.7 348.7,154.9 349.3,151.1 349.8,148.8 350.3,153.8 350.9,165.7 351.4,176.6 351.9,180.8 352.5,179.4 353.0,175.5 353.5,169.1 354.1,162.5 354.6,157.9 355.1,156.0 355.7,157.0 356.2,159.4 356.7,160.8 357.3,159.8 358.0,156.5 358.6,153.6 359.2,152.8 359.9,155.6 360.7,158.6 361.3,155.4 362.0,148.6 362.6,145.1 363.1,147.6 363.7,153.2 364.2,156.6 364.7,154.9 365.3,148.9 365.8,142.7 366.3,141.0 366.9,145.3 367.6,153.7 368.2,162.9 368.8,167.3 369.0,158.7 369.6,156.2 370.3,152.6 370.8,157.6 371.3,162.9 372.0,159.8 372.6,153.3 373.3,149.6 373.8,152.0 374.3,157.9 374.9,163.4 375.4,165.2 376.0,162.7 376.7,157.1 377.3,153.5 378.1,157.2 378.8,161.0 379.5,157.6 380.2,154.6 380.7,157.3 381.3,160.1 381.8,159.8 382.3,158.3 382.9,157.5 383.5,162.3 384.1,167.6 384.8,164.7 385.4,158.1 386.1,155.1 386.7,159.6 387.3,164.2 387.9,159.1 388.5,149.5 389.1,145.4 389.6,148.3 390.1,155.7 390.7,163.4 391.2,166.5 391.7,164.3 392.3,158.2 392.8,151.5 393.3,148.6 394.1,152.7 394.8,156.8 395.4,155.5 396.0,151.3 396.5,149.2 397.3,155.2 398.0,160.1 398.6,158.2 399.2,156.1 399.7,154.9 400.5,158.1 401.2,161.0 401.8,159.1 402.4,156.3 402.9,154.9 403.5,156.3 404.1,157.7 404.7,157.7 405.3,156.0 405.8,155.2 406.5,159.4 407.2,162.7 407.8,160.0 408.4,154.5 409.0,152.3 409.5,154.4 410.1,157.5 410.6,159.5 411.2,157.5 411.9,154.5 412.5,156.6 413.1,162.2 413.7,166.6 414.3,168.2 414.9,165.5 415.4,158.8 415.9,155.2 416.5,156.3 417.0,157.5 417.5,156.5 418.1,154.1 418.6,152.0 419.1,150.8 419.7,151.9 420.2,154.3 420.7,157.3 421.3,159.7 421.8,161.6 422.4,161.9 423.0,158.7 423.5,155.2 424.1,153.3 424.7,152.7 425.4,155.1 426.1,157.8 426.6,157.0 427.1,154.3 427.7,151.3 428.2,150.1 428.7,152.7 429.3,156.8 429.8,160.9 430.3,163.0 430.9,161.7 431.4,158.4 431.9,154.6 432.5,152.9 433.0,154.4 433.5,156.7 434.1,157.8 434.7,156.2 435.3,154.7 436.0,158.0 436.7,161.1 437.3,159.9 437.8,157.3 438.3,156.7 439.0,159.6 439.6,165.3 440.3,168.5 441.0,160.3 441.7,153.5 442.3,156.7 442.9,162.3 443.5,165.3 444.0,164.4 444.5,161.7 445.0,157.3 445.5,153.5 446.0,152.5 446.6,156.3 447.2,162.7 447.7,166.0 448.3,161.7 448.9,153.4 449.5,150.3 450.1,154.2 450.7,160.7 451.3,164.0 451.9,159.8 452.5,152.5 453.1,149.3 453.7,151.9 454.3,156.8 454.9,159.2 455.5,158.2 456.1,155.5 456.7,154.3 457.4,156.4 458.1,157.5 458.6,154.6 459.1,152.2 459.8,159.8 460.5,167.2 461.1,164.2 461.7,158.3 462.3,155.3 462.9,152.4 463.4,147.2 463.9,145.3 464.5,146.6 465.0,147.9 465.6,152.0 466.2,160.3 466.8,169.2 467.3,173.3 468.0,166.1 468.7,158.4 469.3,161.3 469.8,168.6 470.3,175.4 470.9,178.2 471.5,174.0 472.1,162.8 472.7,151.2 473.3,147.5 473.9,151.4 474.4,154.4 475.0,152.4 475.7,150.4 476.3,152.5 476.9,157.1 477.6,160.4 478.2,159.0 478.8,153.6 479.3,148.1 479.9,146.7 480.5,150.4 481.0,156.0 481.5,159.3 482.2,157.4 482.9,155.0 483.5,156.4 484.0,157.4 484.7,151.8 485.5,146.5 486.0,149.6 486.5,155.1 487.1,160.2 487.6,162.4 488.2,159.6 488.8,153.3 489.3,149.8 489.9,154.3 490.5,162.0 491.1,164.7 491.7,162.0 492.3,156.3 492.9,152.7 493.5,155.7 494.1,162.5 494.7,165.7 495.3,158.4 495.9,151.5 496.5,155.3 497.1,163.4 497.7,171.1 498.3,175.1 498.8,170.2 499.4,159.3 500.0,154.1 500.6,157.3 501.2,164.3 501.8,168.5 502.4,164.5 503.0,154.9 503.6,149.3 504.1,153.0 504.7,160.3 505.2,164.2 505.8,160.7 506.5,152.6 507.1,148.7 507.9,154.1 508.6,159.4 509.2,158.6 509.8,157.2 510.3,156.7 511.0,158.1 511.6,159.7 512.1,158.1 512.7,156.6 513.2,156.2 513.8,157.7 514.4,162.2 515.0,164.6 515.7,161.2 516.3,155.0 516.9,152.2 517.6,155.5 518.2,162.2 518.9,165.3 519.5,161.7 520.1,154.3 520.7,150.6 521.3,156.1 521.9,166.3 522.5,171.3 523.1,165.6 523.8,154.2 524.4,148.4 525.0,153.0 525.7,163.7 526.3,170.0 526.9,163.8 527.5,151.5 528.1,146.5 528.7,154.3 529.3,169.6 529.9,177.9 530.6,171.1 531.2,156.2 531.9,148.3 532.4,155.2 532.9,168.6 533.5,174.2 534.0,168.7 534.5,156.9 535.1,145.2 535.6,140.2 536.1,147.0 536.7,161.6 537.2,169.1 537.7,163.7 538.3,153.4 538.8,148.9 539.3,153.3 539.9,161.3 540.4,165.4 541.0,160.0 541.7,148.6 542.3,143.1 542.9,147.5 542.9,147.7"/>
<text x="429.4" y="136.7" font-size="6.6" font-weight="bold" text-anchor="middle" textLength="84.3" lengthAdjust="spacingAndGlyphs" fill="#111">Output of proposed algorithm</text>
<text x="432.7" y="200.4" font-size="8.8" font-weight="bold" text-anchor="middle" textLength="40" lengthAdjust="spacingAndGlyphs" fill="#111">Time (sec)</text>
<text transform="translate(304.0,94.5) rotate(-90)" font-size="8.6" font-weight="bold" text-anchor="middle" textLength="59.8" lengthAdjust="spacingAndGlyphs" fill="#111">Amplitude (mV)</text>
<text class="lab" x="423.7" y="218.6" font-size="11.5" font-weight="bold" text-anchor="middle" fill="#111">(b)</text>
<rect x="29.7" y="240.4" width="219.2" height="42.5" fill="none" stroke="#6a6a6a" stroke-width="1"/>
<path d="M29.7 282.9 v-2.2 M29.7 240.4 v2.2" stroke="#6a6a6a" stroke-width="0.8"/>
<text x="29.7" y="291.5" font-size="6.3" text-anchor="middle" textLength="3.11" lengthAdjust="spacingAndGlyphs" fill="#151515">0</text>
<path d="M61.0 282.9 v-2.2 M61.0 240.4 v2.2" stroke="#6a6a6a" stroke-width="0.8"/>
<text x="61.0" y="291.5" font-size="6.3" text-anchor="middle" textLength="3.11" lengthAdjust="spacingAndGlyphs" fill="#151515">2</text>
<path d="M92.3 282.9 v-2.2 M92.3 240.4 v2.2" stroke="#6a6a6a" stroke-width="0.8"/>
<text x="92.3" y="291.5" font-size="6.3" text-anchor="middle" textLength="3.11" lengthAdjust="spacingAndGlyphs" fill="#151515">4</text>
<path d="M123.6 282.9 v-2.2 M123.6 240.4 v2.2" stroke="#6a6a6a" stroke-width="0.8"/>
<text x="123.6" y="291.5" font-size="6.3" text-anchor="middle" textLength="3.11" lengthAdjust="spacingAndGlyphs" fill="#151515">6</text>
<path d="M155.0 282.9 v-2.2 M155.0 240.4 v2.2" stroke="#6a6a6a" stroke-width="0.8"/>
<text x="155.0" y="291.5" font-size="6.3" text-anchor="middle" textLength="3.11" lengthAdjust="spacingAndGlyphs" fill="#151515">8</text>
<path d="M186.3 282.9 v-2.2 M186.3 240.4 v2.2" stroke="#6a6a6a" stroke-width="0.8"/>
<text x="186.3" y="291.5" font-size="6.3" text-anchor="middle" textLength="6.23" lengthAdjust="spacingAndGlyphs" fill="#151515">10</text>
<path d="M217.6 282.9 v-2.2 M217.6 240.4 v2.2" stroke="#6a6a6a" stroke-width="0.8"/>
<text x="217.6" y="291.5" font-size="6.3" text-anchor="middle" textLength="6.23" lengthAdjust="spacingAndGlyphs" fill="#151515">12</text>
<path d="M248.9 282.9 v-2.2 M248.9 240.4 v2.2" stroke="#6a6a6a" stroke-width="0.8"/>
<text x="248.9" y="291.5" font-size="6.3" text-anchor="middle" textLength="6.23" lengthAdjust="spacingAndGlyphs" fill="#151515">14</text>
<path d="M29.7 282.9 h2.2 M248.9 282.9 h-2.2" stroke="#6a6a6a" stroke-width="0.8"/>
<text x="27.9" y="285.2" font-size="6.3" text-anchor="end" textLength="4.98" lengthAdjust="spacingAndGlyphs" fill="#151515">-5</text>
<path d="M29.7 261.6 h2.2 M248.9 261.6 h-2.2" stroke="#6a6a6a" stroke-width="0.8"/>
<text x="27.9" y="263.9" font-size="6.3" text-anchor="end" textLength="3.11" lengthAdjust="spacingAndGlyphs" fill="#151515">0</text>
<path d="M29.7 240.4 h2.2 M248.9 240.4 h-2.2" stroke="#6a6a6a" stroke-width="0.8"/>
<text x="27.9" y="242.7" font-size="6.3" text-anchor="end" textLength="3.11" lengthAdjust="spacingAndGlyphs" fill="#151515">5</text>
<polyline fill="none" stroke="#0000ff" stroke-width="0.95" stroke-linejoin="round" filter="url(#bl)" points="29.7,265.3 29.9,265.3 30.4,264.5 31.0,262.7 31.6,260.4 32.2,258.8 32.7,258.2 33.4,260.5 34.1,263.0 34.9,261.7 35.6,260.3 36.5,261.4 37.0,260.8 37.5,260.0 38.1,260.4 38.6,261.7 39.1,262.8 39.7,263.1 40.2,262.8 40.7,262.0 41.3,260.8 41.8,260.4 42.3,262.5 42.9,264.5 43.4,262.5 43.9,258.9 44.5,257.1 45.0,258.6 45.5,261.9 46.1,263.6 46.7,261.8 47.3,259.9 48.0,262.4 48.7,265.2 49.3,263.4 49.8,259.8 50.3,258.4 51.0,262.8 51.6,266.7 52.3,264.3 52.9,259.8 53.5,257.5 54.2,260.1 54.8,264.9 55.5,267.2 56.2,262.5 56.9,257.7 57.5,259.7 58.0,261.9 58.7,259.7 59.4,257.0 59.9,260.3 60.5,266.6 61.0,269.5 61.5,267.5 62.1,262.7 62.6,256.9 63.1,252.0 63.7,250.2 64.2,254.9 64.7,264.0 65.3,268.6 65.8,266.7 66.3,262.0 66.9,256.2 67.4,251.4 67.9,249.6 68.5,254.1 69.1,262.8 69.7,267.0 70.4,264.7 71.0,259.8 71.6,254.6 72.2,252.4 72.7,254.5 73.3,259.4 73.8,264.2 74.3,266.4 74.9,264.7 75.4,260.1 75.9,255.8 76.5,254.0 77.0,255.0 77.6,260.1 78.3,265.2 79.0,262.7 79.7,259.9 80.4,262.7 81.1,265.8 81.7,262.9 82.3,257.5 82.9,255.0 83.4,256.6 83.9,260.8 84.5,264.6 85.0,266.1 85.6,263.3 86.2,257.3 86.8,254.0 87.4,256.3 88.0,260.6 88.5,262.6 89.3,265.2 90.0,267.6 90.6,266.6 91.2,264.3 91.8,261.2 92.4,258.7 93.0,257.8 93.6,259.9 94.2,264.4 94.8,270.0 95.4,274.6 96.0,276.2 96.6,268.5 97.2,253.3 97.8,245.6 98.3,248.9 98.9,257.9 99.4,269.0 99.9,277.7 100.5,281.0 101.1,276.3 101.6,264.7 102.2,253.1 102.8,248.3 103.4,252.4 104.0,262.5 104.7,272.7 105.3,277.0 105.8,272.6 106.3,262.2 106.9,251.7 107.4,247.2 107.9,251.4 108.5,261.9 109.0,272.6 109.5,277.0 110.1,273.2 110.6,263.9 111.1,254.6 111.7,251.0 112.3,253.7 112.9,260.5 113.5,267.3 114.1,270.0 114.7,267.3 115.3,261.0 115.9,254.5 116.5,251.8 117.1,257.1 117.7,267.4 118.4,272.4 119.0,269.9 119.6,263.5 120.1,257.3 120.7,254.9 121.4,258.7 122.0,265.6 122.7,268.9 123.2,267.8 123.7,265.1 124.3,262.5 124.8,261.4 125.0,255.2 125.6,257.7 126.2,263.5 126.8,269.7 127.3,272.4 128.0,269.8 128.6,264.2 129.2,259.0 129.8,256.7 130.3,258.7 130.9,263.0 131.4,267.6 131.9,270.0 132.5,267.9 133.2,262.0 133.8,256.4 134.4,254.2 135.0,255.2 135.5,258.0 136.1,261.8 136.6,266.3 137.2,270.6 137.8,273.2 138.3,274.2 138.9,271.9 139.4,265.9 139.9,258.4 140.5,252.4 141.0,250.3 141.6,254.7 142.3,263.0 142.9,267.4 143.4,266.0 143.9,262.4 144.5,258.0 145.0,254.3 145.5,253.2 146.1,256.7 146.8,263.8 147.4,267.8 148.0,266.1 148.6,261.3 149.2,256.8 149.7,255.1 150.4,257.9 151.0,264.4 151.7,267.8 152.3,265.5 152.8,260.4 153.4,255.2 154.0,253.2 154.7,257.3 155.3,265.4 155.9,269.4 156.5,267.0 157.1,261.3 157.7,255.5 158.3,253.0 158.8,255.6 159.3,261.5 159.9,267.3 160.4,269.9 161.0,267.5 161.6,261.1 162.3,254.8 162.9,252.3 163.5,256.8 164.1,266.0 164.7,270.6 165.2,268.9 165.8,264.7 166.3,259.5 166.9,254.9 167.5,253.2 168.0,256.0 168.5,262.4 169.1,268.7 169.6,271.0 170.1,269.2 170.6,264.2 171.1,258.0 171.6,253.3 172.1,251.5 173.0,254.2 173.5,258.2 174.1,265.9 174.6,269.9 175.1,267.7 175.7,261.6 176.2,255.4 176.7,252.9 177.3,255.1 177.8,260.9 178.3,266.6 178.9,268.8 179.5,266.8 180.1,261.8 180.7,256.3 181.3,254.0 181.9,256.4 182.4,262.1 182.9,267.7 183.5,269.9 184.0,267.6 184.5,262.0 185.1,256.1 185.6,253.7 186.2,256.1 186.8,261.0 187.3,265.5 187.9,267.3 188.5,265.9 189.0,263.1 189.5,260.2 190.1,258.8 190.6,260.4 191.1,259.5 191.7,257.7 192.2,255.9 192.7,255.0 193.3,256.8 194.0,260.9 194.6,265.1 195.2,266.9 195.7,265.1 196.3,260.9 196.8,256.8 197.3,255.2 197.9,257.4 198.5,262.5 199.1,267.9 199.7,270.1 200.2,268.2 200.7,263.8 201.3,259.4 201.8,257.6 202.4,258.6 203.0,261.2 203.6,264.0 204.1,264.9 204.8,261.7 205.5,258.5 206.1,261.5 206.6,267.5 207.1,270.7 207.7,264.5 208.2,258.4 208.7,259.7 209.3,262.1 209.8,263.3 210.3,263.0 210.9,262.0 211.4,260.5 211.9,258.9 212.5,257.7 213.0,257.3 213.6,260.6 214.2,267.0 214.8,270.0 215.4,268.5 216.0,264.4 216.5,259.4 217.1,255.2 217.7,253.6 218.2,256.0 218.7,261.4 219.3,266.6 219.8,268.7 220.4,265.7 221.0,258.8 221.7,251.8 222.3,248.7 222.9,253.4 223.5,265.0 224.1,276.9 224.7,281.8 225.3,277.0 225.9,265.3 226.5,253.3 227.1,248.1 227.7,252.6 228.2,263.6 228.8,274.5 229.4,279.0 230.0,274.3 230.6,263.1 231.3,252.1 231.9,247.4 232.4,251.9 232.9,263.2 233.5,274.1 234.0,278.5 234.5,274.1 235.1,263.4 235.6,252.9 236.1,248.6 236.7,251.9 237.2,259.9 237.7,267.9 238.3,271.5 238.8,268.2 239.3,259.6 239.9,251.1 240.4,247.6 240.9,250.3 241.5,257.2 242.0,264.0 242.5,266.8 243.1,265.2 243.6,261.5 244.1,258.1 244.7,256.7 245.2,259.0 245.7,264.0 246.3,266.7 246.9,265.0 247.5,260.9 248.2,258.7 248.9,260.2"/>
<text x="138.4" y="237.8" font-size="6.6" font-weight="bold" text-anchor="middle" textLength="55.6" lengthAdjust="spacingAndGlyphs" fill="#111">Original clean ECG</text>
<rect x="29.7" y="304.3" width="219.2" height="42.3" fill="none" stroke="#6a6a6a" stroke-width="1"/>
<path d="M29.7 346.6 v-2.2 M29.7 304.3 v2.2" stroke="#6a6a6a" stroke-width="0.8"/>
<text x="29.7" y="355.2" font-size="6.3" text-anchor="middle" textLength="3.11" lengthAdjust="spacingAndGlyphs" fill="#151515">0</text>
<path d="M61.0 346.6 v-2.2 M61.0 304.3 v2.2" stroke="#6a6a6a" stroke-width="0.8"/>
<text x="61.0" y="355.2" font-size="6.3" text-anchor="middle" textLength="3.11" lengthAdjust="spacingAndGlyphs" fill="#151515">2</text>
<path d="M92.3 346.6 v-2.2 M92.3 304.3 v2.2" stroke="#6a6a6a" stroke-width="0.8"/>
<text x="92.3" y="355.2" font-size="6.3" text-anchor="middle" textLength="3.11" lengthAdjust="spacingAndGlyphs" fill="#151515">4</text>
<path d="M123.6 346.6 v-2.2 M123.6 304.3 v2.2" stroke="#6a6a6a" stroke-width="0.8"/>
<text x="123.6" y="355.2" font-size="6.3" text-anchor="middle" textLength="3.11" lengthAdjust="spacingAndGlyphs" fill="#151515">6</text>
<path d="M155.0 346.6 v-2.2 M155.0 304.3 v2.2" stroke="#6a6a6a" stroke-width="0.8"/>
<text x="155.0" y="355.2" font-size="6.3" text-anchor="middle" textLength="3.11" lengthAdjust="spacingAndGlyphs" fill="#151515">8</text>
<path d="M186.3 346.6 v-2.2 M186.3 304.3 v2.2" stroke="#6a6a6a" stroke-width="0.8"/>
<text x="186.3" y="355.2" font-size="6.3" text-anchor="middle" textLength="6.23" lengthAdjust="spacingAndGlyphs" fill="#151515">10</text>
<path d="M217.6 346.6 v-2.2 M217.6 304.3 v2.2" stroke="#6a6a6a" stroke-width="0.8"/>
<text x="217.6" y="355.2" font-size="6.3" text-anchor="middle" textLength="6.23" lengthAdjust="spacingAndGlyphs" fill="#151515">12</text>
<path d="M248.9 346.6 v-2.2 M248.9 304.3 v2.2" stroke="#6a6a6a" stroke-width="0.8"/>
<text x="248.9" y="355.2" font-size="6.3" text-anchor="middle" textLength="6.23" lengthAdjust="spacingAndGlyphs" fill="#151515">14</text>
<path d="M29.7 346.6 h2.2 M248.9 346.6 h-2.2" stroke="#6a6a6a" stroke-width="0.8"/>
<text x="27.9" y="348.9" font-size="6.3" text-anchor="end" textLength="8.09" lengthAdjust="spacingAndGlyphs" fill="#151515">-10</text>
<path d="M29.7 325.5 h2.2 M248.9 325.5 h-2.2" stroke="#6a6a6a" stroke-width="0.8"/>
<text x="27.9" y="327.8" font-size="6.3" text-anchor="end" textLength="3.11" lengthAdjust="spacingAndGlyphs" fill="#151515">0</text>
<path d="M29.7 304.3 h2.2 M248.9 304.3 h-2.2" stroke="#6a6a6a" stroke-width="0.8"/>
<text x="27.9" y="306.6" font-size="6.3" text-anchor="end" textLength="6.23" lengthAdjust="spacingAndGlyphs" fill="#151515">10</text>
<polyline fill="none" stroke="#ff0000" stroke-width="0.95" stroke-linejoin="round" filter="url(#bl)" points="29.7,327.6 29.9,327.2 30.4,326.5 31.0,324.7 31.6,322.8 32.1,320.5 32.7,317.7 33.3,316.5 33.9,320.5 34.5,330.1 35.2,335.9 35.8,332.7 36.4,326.4 37.0,324.2 37.5,326.2 38.1,327.3 38.6,325.5 39.1,322.4 39.7,319.0 40.2,316.7 40.7,316.0 41.3,318.2 41.8,324.5 42.3,330.5 42.9,331.7 43.5,329.4 44.1,325.9 44.8,324.3 45.5,324.6 46.3,325.4 46.9,324.7 47.5,321.6 48.1,317.9 48.7,316.5 49.3,318.8 49.8,325.9 50.3,333.2 50.9,335.3 51.4,333.0 51.9,328.9 52.5,325.7 53.0,324.5 53.7,324.8 54.3,324.7 54.8,324.3 55.3,322.7 55.9,320.9 56.4,319.8 56.9,320.2 57.5,322.5 58.0,326.2 58.5,329.7 59.1,331.7 59.6,330.1 60.2,327.4 60.8,326.5 61.5,327.8 62.1,326.2 62.6,321.9 63.1,317.0 63.7,314.1 64.2,312.8 64.8,315.7 65.4,324.0 66.0,332.3 66.5,335.0 67.1,330.9 67.7,324.6 68.3,321.3 68.9,325.5 69.5,329.9 70.1,328.3 70.6,324.5 71.1,319.4 71.7,315.4 72.2,314.1 72.8,317.4 73.4,324.5 74.0,331.1 74.7,334.4 75.2,333.1 75.7,328.5 76.3,324.1 76.8,322.3 77.0,321.7 77.6,323.9 78.3,326.6 78.8,325.0 79.4,321.7 80.0,319.8 80.5,321.3 81.1,325.1 81.6,329.3 82.1,331.8 82.9,329.9 83.6,326.5 84.3,327.4 85.0,329.0 85.5,327.0 86.1,321.7 86.6,317.0 87.1,315.8 87.7,318.0 88.3,322.6 88.9,328.6 89.4,333.9 90.0,336.0 90.6,334.5 91.2,330.3 91.9,325.0 92.5,322.6 93.0,323.1 93.5,323.2 94.1,322.5 94.7,319.7 95.3,316.7 96.0,319.4 96.7,323.3 97.3,322.3 97.8,321.3 98.3,321.8 98.9,323.9 99.4,326.8 99.9,330.2 100.5,333.0 101.0,333.6 101.6,327.3 102.2,315.5 102.8,309.9 103.4,313.1 103.9,321.5 104.5,331.8 105.0,338.9 105.6,341.5 106.1,338.6 106.7,330.8 107.2,322.8 107.7,319.4 108.3,323.1 108.9,329.3 109.5,331.3 110.1,328.4 110.6,323.0 111.1,317.6 111.7,315.9 112.2,318.2 112.7,325.8 113.3,334.6 113.8,338.2 114.4,337.1 115.0,333.2 115.5,327.5 116.1,322.8 116.7,320.9 117.2,323.5 117.7,325.7 118.3,324.9 118.9,323.3 119.5,322.5 120.0,325.2 120.6,329.1 121.2,332.1 121.8,333.6 122.3,332.7 122.9,329.6 123.4,326.3 123.9,323.7 124.5,322.1 125.0,317.9 125.5,319.2 126.1,321.6 126.6,324.8 127.1,327.7 127.7,330.5 128.2,333.4 128.7,335.0 129.4,329.6 130.1,323.8 130.9,326.1 131.6,329.3 132.2,329.2 132.7,325.6 133.3,320.1 133.8,315.7 134.4,314.3 134.9,316.2 135.5,320.2 136.0,325.6 136.5,330.5 137.1,333.5 137.6,334.6 138.2,334.1 138.7,331.7 139.3,327.7 139.8,323.4 140.4,319.0 141.0,315.5 141.5,314.6 142.1,316.9 142.7,321.5 143.3,326.8 143.8,331.5 144.4,333.4 145.1,329.4 145.8,324.4 146.3,324.9 146.9,327.5 147.4,328.7 148.0,326.6 148.6,321.1 149.2,315.1 149.7,313.4 150.3,316.5 150.9,322.0 151.4,327.3 152.0,331.5 152.5,334.3 153.1,332.4 153.7,326.1 154.3,321.9 155.0,323.5 155.7,326.4 156.3,326.0 156.9,322.8 157.4,319.1 158.0,316.1 158.6,314.0 159.2,320.6 159.8,333.7 160.4,339.3 161.0,336.8 161.6,332.1 162.2,327.1 162.8,323.7 163.4,322.5 164.0,323.1 164.7,323.7 165.4,322.8 166.1,322.3 166.6,323.2 167.1,324.8 167.7,326.9 168.2,329.1 168.7,330.8 169.3,331.6 169.8,330.1 170.3,326.6 170.9,322.2 171.4,318.1 171.9,315.2 172.5,314.3 173.0,317.0 173.6,321.0 174.3,329.8 174.9,335.0 175.5,333.8 176.0,328.9 176.5,323.3 177.1,321.1 177.7,323.1 178.3,327.2 178.9,329.7 179.5,327.9 180.1,322.9 180.7,318.0 181.3,316.6 181.9,320.4 182.4,328.1 182.9,334.7 183.5,337.4 184.0,336.2 184.6,332.5 185.2,326.4 185.8,321.2 186.3,319.9 186.9,320.5 187.4,321.5 187.9,321.5 188.5,320.0 189.0,319.6 189.5,323.2 190.1,329.6 190.6,333.3 191.2,331.2 191.8,326.6 192.4,323.5 193.1,322.2 193.6,322.3 194.1,322.6 194.7,322.1 195.2,321.7 195.7,320.3 196.3,318.5 196.8,320.7 197.4,326.5 198.0,332.8 198.6,335.0 199.1,333.8 199.7,331.4 200.2,328.2 200.7,325.0 201.3,321.6 201.8,319.2 202.3,317.7 202.9,316.8 203.4,318.0 203.9,322.4 204.5,328.3 205.0,333.4 205.5,335.6 206.1,334.5 206.6,331.3 207.1,327.3 207.7,323.7 208.2,322.3 209.1,327.6 209.6,326.8 210.1,324.1 210.7,321.8 211.2,320.9 211.7,321.8 212.2,324.3 212.7,326.6 213.2,329.3 213.8,331.7 214.3,332.1 214.8,330.8 215.3,329.4 215.9,327.7 216.4,324.2 216.9,320.5 217.5,318.9 218.0,318.4 218.6,319.8 219.2,323.2 219.7,328.0 220.3,332.7 220.9,335.0 221.4,333.6 221.9,328.8 222.5,323.6 223.0,321.4 223.7,324.0 224.3,330.6 224.9,334.4 225.6,329.3 226.2,319.4 226.9,313.8 227.4,316.4 227.9,322.9 228.4,329.9 228.9,335.6 229.4,337.9 230.0,335.8 230.6,330.1 231.2,323.8 231.8,318.4 232.4,316.3 232.9,319.5 233.5,325.3 234.0,328.3 234.5,326.3 235.1,323.9 235.6,323.8 236.1,325.4 236.7,328.4 237.2,331.1 237.7,331.6 238.3,330.2 238.9,327.0 239.5,322.3 240.1,317.6 240.7,315.6 241.3,316.7 241.8,320.4 242.3,324.9 242.9,329.6 243.4,333.5 243.9,334.1 244.5,331.8 245.1,328.2 245.7,326.5 246.3,327.6 246.8,328.1 247.4,324.7 248.0,318.7 248.6,315.6 248.9,315.7"/>
<text x="138.1" y="301.7" font-size="6.6" font-weight="bold" text-anchor="middle" textLength="70.9" lengthAdjust="spacingAndGlyphs" fill="#111">CPR-contaminated ECG</text>
<rect x="29.7" y="367.5" width="219.2" height="42.5" fill="none" stroke="#6a6a6a" stroke-width="1"/>
<path d="M29.7 410.0 v-2.2 M29.7 367.5 v2.2" stroke="#6a6a6a" stroke-width="0.8"/>
<text x="29.7" y="418.6" font-size="6.3" text-anchor="middle" textLength="3.11" lengthAdjust="spacingAndGlyphs" fill="#151515">0</text>
<path d="M61.0 410.0 v-2.2 M61.0 367.5 v2.2" stroke="#6a6a6a" stroke-width="0.8"/>
<text x="61.0" y="418.6" font-size="6.3" text-anchor="middle" textLength="3.11" lengthAdjust="spacingAndGlyphs" fill="#151515">2</text>
<path d="M92.3 410.0 v-2.2 M92.3 367.5 v2.2" stroke="#6a6a6a" stroke-width="0.8"/>
<text x="92.3" y="418.6" font-size="6.3" text-anchor="middle" textLength="3.11" lengthAdjust="spacingAndGlyphs" fill="#151515">4</text>
<path d="M123.6 410.0 v-2.2 M123.6 367.5 v2.2" stroke="#6a6a6a" stroke-width="0.8"/>
<text x="123.6" y="418.6" font-size="6.3" text-anchor="middle" textLength="3.11" lengthAdjust="spacingAndGlyphs" fill="#151515">6</text>
<path d="M155.0 410.0 v-2.2 M155.0 367.5 v2.2" stroke="#6a6a6a" stroke-width="0.8"/>
<text x="155.0" y="418.6" font-size="6.3" text-anchor="middle" textLength="3.11" lengthAdjust="spacingAndGlyphs" fill="#151515">8</text>
<path d="M186.3 410.0 v-2.2 M186.3 367.5 v2.2" stroke="#6a6a6a" stroke-width="0.8"/>
<text x="186.3" y="418.6" font-size="6.3" text-anchor="middle" textLength="6.23" lengthAdjust="spacingAndGlyphs" fill="#151515">10</text>
<path d="M217.6 410.0 v-2.2 M217.6 367.5 v2.2" stroke="#6a6a6a" stroke-width="0.8"/>
<text x="217.6" y="418.6" font-size="6.3" text-anchor="middle" textLength="6.23" lengthAdjust="spacingAndGlyphs" fill="#151515">12</text>
<path d="M248.9 410.0 v-2.2 M248.9 367.5 v2.2" stroke="#6a6a6a" stroke-width="0.8"/>
<text x="248.9" y="418.6" font-size="6.3" text-anchor="middle" textLength="6.23" lengthAdjust="spacingAndGlyphs" fill="#151515">14</text>
<path d="M29.7 404.6 h2.2 M248.9 404.6 h-2.2" stroke="#6a6a6a" stroke-width="0.8"/>
<text x="27.9" y="406.9" font-size="6.3" text-anchor="end" textLength="4.98" lengthAdjust="spacingAndGlyphs" fill="#151515">-5</text>
<path d="M29.7 386.4 h2.2 M248.9 386.4 h-2.2" stroke="#6a6a6a" stroke-width="0.8"/>
<text x="27.9" y="388.7" font-size="6.3" text-anchor="end" textLength="3.11" lengthAdjust="spacingAndGlyphs" fill="#151515">0</text>
<path d="M29.7 368.2 h2.2 M248.9 368.2 h-2.2" stroke="#6a6a6a" stroke-width="0.8"/>
<text x="27.9" y="370.5" font-size="6.3" text-anchor="end" textLength="3.11" lengthAdjust="spacingAndGlyphs" fill="#151515">5</text>
<polyline fill="none" stroke="#008a00" stroke-width="0.95" stroke-linejoin="round" filter="url(#bl)" points="29.7,393.3 29.9,393.5 30.4,392.0 30.9,388.0 31.4,383.6 31.9,379.2 32.4,374.6 33.0,372.1 33.5,371.5 34.0,377.5 34.6,390.0 35.2,396.1 35.9,388.3 36.7,381.0 37.3,382.7 37.9,386.9 38.5,391.7 39.1,393.7 39.7,390.5 40.2,384.3 40.7,377.9 41.3,374.4 41.9,379.0 42.5,387.9 43.1,391.8 43.7,388.2 44.4,380.0 45.0,376.6 45.5,379.5 46.1,385.4 46.6,390.9 47.1,393.4 47.8,389.5 48.4,380.8 49.1,377.2 49.6,380.8 50.1,387.8 50.7,394.6 51.2,397.4 51.8,392.3 52.4,381.4 53.0,375.1 53.5,377.2 54.1,382.7 54.6,386.2 55.1,385.3 55.7,383.2 56.2,382.7 56.7,385.6 57.3,390.3 57.8,394.7 58.3,396.9 58.9,395.5 59.4,389.9 59.9,383.5 60.5,381.1 61.0,382.9 61.5,386.2 62.1,389.0 62.6,390.4 63.1,385.5 63.7,376.1 64.2,371.2 64.8,375.2 65.4,385.1 66.0,395.0 66.5,399.0 67.1,391.6 67.7,377.8 68.3,371.0 68.8,374.0 69.3,382.3 69.9,391.2 70.4,394.8 70.9,391.3 71.5,383.4 72.0,375.7 72.5,373.1 73.1,376.5 73.6,383.4 74.1,390.7 74.7,394.1 75.2,391.7 75.7,385.0 76.3,378.9 76.8,376.2 77.0,376.8 77.5,381.7 78.1,391.9 78.6,397.6 79.1,396.0 79.7,389.5 80.2,382.7 80.7,380.0 81.4,384.8 82.1,389.8 82.9,384.8 83.6,378.8 84.2,381.5 84.8,388.9 85.3,392.5 85.9,388.7 86.5,381.4 87.1,378.1 87.7,380.9 88.2,386.7 88.7,392.6 89.3,397.4 89.8,399.8 90.3,398.1 90.9,393.4 91.4,386.6 91.9,380.9 92.5,379.3 93.0,380.9 93.5,384.9 94.1,388.8 94.6,390.1 95.2,388.7 95.8,385.2 96.3,381.7 96.9,378.5 97.5,376.7 98.2,377.5 98.9,379.7 99.6,378.2 100.3,389.3 101.0,401.8 101.6,393.8 102.2,376.6 102.8,368.1 103.4,372.5 103.9,382.8 104.5,395.5 105.0,405.7 105.6,409.2 106.2,399.2 106.8,379.9 107.4,370.2 107.9,374.6 108.5,386.1 109.0,398.4 109.5,403.8 110.1,399.6 110.6,388.8 111.1,377.1 111.7,373.0 112.2,377.6 112.7,387.6 113.3,398.5 113.8,402.4 114.3,399.0 114.9,390.6 115.4,381.8 115.9,378.7 116.5,381.6 117.0,388.1 117.5,394.5 118.1,397.5 118.6,395.0 119.1,389.6 119.7,384.7 120.2,382.4 120.7,384.5 121.3,388.8 121.8,391.3 122.3,390.2 122.9,387.0 123.4,383.6 123.9,382.1 124.5,383.0 125.0,384.5 125.5,383.5 126.1,382.1 126.6,383.8 127.1,387.9 127.7,392.1 128.2,393.7 128.7,390.8 129.3,383.9 129.8,376.3 130.3,372.9 130.9,376.9 131.4,385.9 131.9,394.5 132.5,397.6 133.1,394.2 133.6,386.9 134.2,379.0 134.8,375.9 135.4,377.6 135.9,381.9 136.5,387.4 137.0,391.8 137.6,393.3 138.2,392.1 138.7,389.9 139.3,387.3 139.8,384.1 140.4,380.3 141.0,377.2 141.5,376.1 142.1,378.3 142.6,382.8 143.1,387.8 143.7,391.8 144.2,393.1 144.8,388.2 145.5,378.2 146.1,373.6 146.7,377.4 147.3,385.1 147.9,393.0 148.5,396.0 149.0,390.4 149.5,380.2 150.1,375.2 150.7,377.6 151.3,384.3 151.9,391.2 152.5,394.4 153.1,388.7 153.7,376.7 154.3,370.6 154.9,373.9 155.4,382.4 155.9,390.7 156.5,393.9 157.0,390.5 157.5,383.1 158.1,376.2 158.6,373.2 159.1,378.5 159.7,388.6 160.2,397.9 160.7,402.3 161.3,399.1 161.8,390.4 162.3,381.5 162.9,378.1 163.5,382.5 164.1,391.4 164.7,395.7 165.3,394.2 165.9,390.9 166.5,387.2 167.1,384.8 167.7,383.0 168.2,383.8 168.7,386.6 169.3,389.6 169.8,391.7 170.3,392.3 170.9,389.6 171.4,383.3 171.9,377.7 172.5,374.9 173.0,377.5 173.5,382.1 174.1,392.6 174.6,398.4 175.1,394.6 175.7,386.0 176.2,378.3 176.7,375.0 177.3,378.1 177.8,386.7 178.3,396.0 178.9,399.7 179.5,395.8 180.1,387.0 180.7,378.4 181.3,374.9 181.9,378.0 182.4,385.9 182.9,394.7 183.5,398.7 184.0,395.4 184.6,389.3 185.2,384.6 185.8,382.6 186.3,384.0 186.9,387.0 187.4,390.1 187.9,390.5 188.5,387.7 189.0,383.0 189.5,380.9 190.1,385.8 190.6,390.6 191.2,387.6 191.8,381.8 192.4,378.8 193.1,381.4 193.7,387.4 194.3,391.3 194.9,389.1 195.5,383.6 196.1,377.7 196.7,374.6 197.2,379.1 197.8,388.6 198.4,393.6 199.0,387.1 199.7,380.6 200.3,383.1 200.9,385.4 201.6,384.4 202.2,382.0 202.8,379.1 203.4,378.3 203.9,381.1 204.5,386.8 205.0,392.3 205.5,394.5 206.1,391.5 206.7,385.0 207.3,381.4 208.0,385.6 208.6,394.8 209.3,399.6 209.9,397.2 210.4,391.6 211.0,385.7 211.6,383.6 212.1,384.7 212.7,385.9 213.5,385.0 214.1,386.2 214.6,388.6 215.1,391.9 215.7,391.2 216.3,388.5 216.8,384.7 217.4,381.7 218.0,380.8 218.5,382.4 219.1,387.5 219.6,393.3 220.1,397.0 220.7,398.2 221.3,394.9 221.8,385.7 222.4,376.3 223.0,372.7 223.7,381.3 224.3,398.3 224.9,406.7 225.5,401.3 226.1,388.8 226.7,375.4 227.3,369.8 227.9,374.8 228.5,385.7 229.1,395.9 229.7,400.1 230.3,396.8 230.8,388.5 231.3,379.5 231.9,375.8 232.4,379.3 232.9,387.4 233.5,395.7 234.0,399.1 234.6,394.0 235.2,383.5 235.8,377.9 236.4,380.7 237.0,386.5 237.7,391.5 238.3,393.8 238.9,392.0 239.5,386.7 240.1,381.9 240.7,380.3 241.3,381.5 241.8,384.3 242.3,386.6 242.9,388.1 243.4,386.9 243.9,382.0 244.5,376.9 245.0,374.3 245.6,378.8 246.2,387.5 246.8,390.7 247.5,386.0 248.1,388.3 248.6,390.6 248.9,390.4"/>
<text x="136.3" y="364.9" font-size="6.6" font-weight="bold" text-anchor="middle" textLength="84.3" lengthAdjust="spacingAndGlyphs" fill="#111">Output of proposed algorithm</text>
<text x="139.8" y="427.9" font-size="8.8" font-weight="bold" text-anchor="middle" textLength="40" lengthAdjust="spacingAndGlyphs" fill="#111">Time (sec)</text>
<text transform="translate(13.0,325.3) rotate(-90)" font-size="8.6" font-weight="bold" text-anchor="middle" textLength="59.8" lengthAdjust="spacingAndGlyphs" fill="#111">Amplitude (mV)</text>
<text class="lab" x="133" y="445.0" font-size="11.5" font-weight="bold" text-anchor="middle" fill="#111">(c)</text>
<rect x="321.3" y="240.4" width="219.7" height="42.1" fill="none" stroke="#6a6a6a" stroke-width="1"/>
<path d="M321.3 282.5 v-2.2 M321.3 240.4 v2.2" stroke="#6a6a6a" stroke-width="0.8"/>
<text x="321.3" y="291.1" font-size="6.3" text-anchor="middle" textLength="3.11" lengthAdjust="spacingAndGlyphs" fill="#151515">0</text>
<path d="M352.7 282.5 v-2.2 M352.7 240.4 v2.2" stroke="#6a6a6a" stroke-width="0.8"/>
<text x="352.7" y="291.1" font-size="6.3" text-anchor="middle" textLength="3.11" lengthAdjust="spacingAndGlyphs" fill="#151515">2</text>
<path d="M384.1 282.5 v-2.2 M384.1 240.4 v2.2" stroke="#6a6a6a" stroke-width="0.8"/>
<text x="384.1" y="291.1" font-size="6.3" text-anchor="middle" textLength="3.11" lengthAdjust="spacingAndGlyphs" fill="#151515">4</text>
<path d="M415.5 282.5 v-2.2 M415.5 240.4 v2.2" stroke="#6a6a6a" stroke-width="0.8"/>
<text x="415.5" y="291.1" font-size="6.3" text-anchor="middle" textLength="3.11" lengthAdjust="spacingAndGlyphs" fill="#151515">6</text>
<path d="M446.8 282.5 v-2.2 M446.8 240.4 v2.2" stroke="#6a6a6a" stroke-width="0.8"/>
<text x="446.8" y="291.1" font-size="6.3" text-anchor="middle" textLength="3.11" lengthAdjust="spacingAndGlyphs" fill="#151515">8</text>
<path d="M478.2 282.5 v-2.2 M478.2 240.4 v2.2" stroke="#6a6a6a" stroke-width="0.8"/>
<text x="478.2" y="291.1" font-size="6.3" text-anchor="middle" textLength="6.23" lengthAdjust="spacingAndGlyphs" fill="#151515">10</text>
<path d="M509.6 282.5 v-2.2 M509.6 240.4 v2.2" stroke="#6a6a6a" stroke-width="0.8"/>
<text x="509.6" y="291.1" font-size="6.3" text-anchor="middle" textLength="6.23" lengthAdjust="spacingAndGlyphs" fill="#151515">12</text>
<path d="M541.0 282.5 v-2.2 M541.0 240.4 v2.2" stroke="#6a6a6a" stroke-width="0.8"/>
<text x="541.0" y="291.1" font-size="6.3" text-anchor="middle" textLength="6.23" lengthAdjust="spacingAndGlyphs" fill="#151515">14</text>
<path d="M321.3 281.3 h2.2 M541.0 281.3 h-2.2" stroke="#6a6a6a" stroke-width="0.8"/>
<text x="319.5" y="283.6" font-size="6.3" text-anchor="end" textLength="9.65" lengthAdjust="spacingAndGlyphs" fill="#151515">-0.5</text>
<path d="M321.3 263.4 h2.2 M541.0 263.4 h-2.2" stroke="#6a6a6a" stroke-width="0.8"/>
<text x="319.5" y="265.7" font-size="6.3" text-anchor="end" textLength="3.11" lengthAdjust="spacingAndGlyphs" fill="#151515">0</text>
<path d="M321.3 245.6 h2.2 M541.0 245.6 h-2.2" stroke="#6a6a6a" stroke-width="0.8"/>
<text x="319.5" y="247.9" font-size="6.3" text-anchor="end" textLength="7.78" lengthAdjust="spacingAndGlyphs" fill="#151515">0.5</text>
<polyline fill="none" stroke="#0000ff" stroke-width="0.95" stroke-linejoin="round" filter="url(#bl)" points="321.3,282.2 322.0,265.7 322.6,249.2 323.1,252.5 323.7,260.7 324.2,269.0 324.7,272.0 325.4,259.5 326.1,247.0 326.7,249.8 327.3,257.3 327.9,264.9 328.5,267.8 329.1,262.4 329.7,251.5 330.4,245.9 331.0,252.7 331.6,266.0 332.2,272.6 332.7,268.6 333.3,258.9 333.8,249.0 334.3,244.6 334.9,252.9 335.4,269.4 335.9,277.6 336.5,274.5 337.0,266.7 337.5,257.3 338.1,249.4 338.6,246.4 339.1,251.4 339.7,263.2 340.2,274.8 340.7,279.6 341.3,274.6 341.8,262.7 342.3,250.9 342.9,245.9 343.4,253.3 343.9,267.8 344.5,275.1 345.0,270.8 345.5,260.1 346.1,249.4 346.6,244.9 347.2,251.5 347.9,264.6 348.5,271.3 349.1,267.7 349.6,258.9 350.1,250.1 350.7,246.4 351.3,254.3 351.9,270.2 352.5,277.9 353.1,273.1 353.7,261.9 354.3,250.7 354.9,246.2 355.5,253.0 356.1,267.1 356.7,274.3 357.3,270.0 357.8,259.5 358.3,248.8 358.9,244.4 359.4,248.9 359.9,259.9 360.5,270.9 361.0,275.5 361.6,268.0 362.2,253.3 362.8,246.1 363.5,252.9 364.1,266.6 364.7,273.5 365.3,269.9 365.8,260.6 366.3,251.1 366.9,247.3 367.4,253.8 367.9,266.7 368.5,273.1 369.0,272.0 369.6,266.1 370.3,254.4 370.9,248.7 371.5,255.5 372.1,269.1 372.7,276.0 373.3,271.6 373.8,261.5 374.3,251.5 374.9,247.0 375.5,253.8 376.1,267.5 376.7,274.1 377.2,269.7 377.7,259.5 378.3,249.4 378.8,245.1 379.5,253.0 380.1,269.1 380.7,277.2 381.3,272.5 381.8,261.3 382.3,250.0 382.9,245.5 383.5,252.9 384.1,267.6 384.8,275.2 385.3,270.9 385.9,260.4 386.4,249.7 386.9,245.3 387.5,249.9 388.0,260.7 388.5,271.4 389.1,275.7 389.7,268.3 390.3,253.3 390.9,245.7 391.5,253.5 392.1,269.1 392.7,276.4 393.3,271.7 393.9,261.1 394.5,250.5 395.1,246.4 395.7,253.3 396.3,267.2 396.9,274.2 397.5,270.3 398.1,261.0 398.6,251.9 399.2,247.9 399.8,255.9 400.4,272.0 401.0,280.1 401.5,274.7 402.1,261.9 402.6,249.7 403.1,244.6 403.7,248.5 404.2,259.0 404.7,269.5 405.3,273.7 405.9,265.4 406.5,248.8 407.2,240.7 407.8,246.1 408.4,259.4 408.9,272.6 409.5,277.9 410.2,269.5 410.8,252.6 411.5,244.1 412.0,248.6 412.6,259.6 413.2,270.4 413.8,274.7 414.4,267.4 415.1,252.7 415.7,245.6 416.3,250.4 416.9,261.7 417.5,273.1 418.1,277.8 418.6,273.3 419.1,262.3 419.7,251.3 420.2,246.5 420.7,253.9 421.3,269.0 421.8,276.8 422.3,272.3 422.9,261.3 423.4,250.2 423.9,245.4 424.5,249.7 425.0,260.0 425.5,270.3 426.1,274.8 426.6,270.7 427.1,260.8 427.7,251.1 428.2,247.0 428.7,251.5 429.3,262.6 429.8,273.6 430.3,278.1 431.0,269.9 431.6,253.7 432.3,245.8 432.8,249.7 433.3,259.7 433.8,269.9 434.3,274.3 434.8,269.8 435.3,258.9 435.9,248.0 436.4,243.6 437.1,251.7 437.7,268.1 438.3,276.5 439.0,268.5 439.6,253.0 440.3,245.1 440.8,249.0 441.3,259.6 441.9,270.5 442.4,274.8 442.9,270.4 443.5,260.0 444.0,249.7 444.5,245.5 445.1,253.3 445.7,268.8 446.3,276.5 446.9,272.1 447.4,261.4 447.9,250.9 448.5,246.7 449.0,251.1 449.5,261.5 450.1,271.9 450.6,276.4 451.1,271.7 451.7,260.7 452.2,249.7 452.7,245.1 453.3,252.3 453.9,266.9 454.5,274.3 455.1,270.2 455.6,260.2 456.1,250.1 456.7,245.9 457.2,250.9 457.7,262.7 458.3,274.5 458.8,279.0 459.5,270.4 460.1,253.6 460.7,245.1 461.3,249.4 461.9,260.1 462.5,270.6 463.1,274.6 463.8,258.0 464.5,241.1 465.0,241.2 465.5,241.2 466.1,250.6 466.6,269.5 467.1,279.1 467.7,274.5 468.2,263.3 468.7,252.1 469.3,247.4 469.8,254.4 470.3,268.2 470.9,275.0 471.4,270.7 471.9,260.1 472.5,249.8 473.0,245.7 473.5,250.4 474.1,262.1 474.6,273.6 475.1,278.7 475.7,274.0 476.2,262.6 476.7,251.3 477.3,246.5 477.8,250.6 478.3,260.8 478.9,270.9 479.4,274.9 479.9,270.8 480.5,261.0 481.0,251.3 481.5,247.2 482.1,253.4 482.7,266.1 483.3,272.5 484.0,268.6 484.6,259.3 485.2,250.1 485.8,246.4 486.4,253.7 487.0,268.0 487.6,274.9 488.2,270.5 488.8,260.0 489.5,249.5 490.1,245.6 490.6,249.9 491.1,259.5 491.7,269.4 492.2,273.5 492.8,266.0 493.4,251.3 494.0,243.8 494.6,248.8 495.2,260.6 495.9,272.1 496.5,276.8 497.1,269.1 497.7,253.9 498.3,246.3 498.8,250.3 499.3,260.1 499.9,269.9 500.4,273.9 500.9,269.8 501.5,259.7 502.0,249.9 502.5,245.7 503.1,250.4 503.6,261.6 504.1,272.7 504.7,277.2 505.3,269.6 505.9,254.6 506.5,247.1 507.0,250.9 507.5,260.6 508.1,270.2 508.6,274.2 509.3,267.3 509.9,253.4 510.5,246.4 511.1,250.1 511.6,259.2 512.1,268.2 512.7,272.0 513.2,268.8 513.7,260.6 514.3,252.2 514.8,248.5 515.4,256.0 516.1,271.2 516.7,278.8 517.3,274.1 517.8,263.0 518.3,251.8 518.9,247.2 519.4,251.1 519.9,260.3 520.5,269.3 521.0,273.0 521.5,269.5 522.1,260.6 522.6,252.2 523.1,248.9 523.7,255.7 524.3,269.4 524.9,276.2 525.5,271.8 526.0,261.2 526.5,250.6 527.1,246.3 527.6,249.9 528.1,259.5 528.7,269.3 529.2,273.3 529.8,265.8 530.4,251.1 531.0,243.9 531.5,249.0 532.1,260.6 532.6,272.3 533.1,277.4 533.7,272.8 534.2,261.3 534.7,249.9 535.3,245.3 535.9,252.8 536.6,267.0 537.2,274.2 537.7,270.0 538.3,259.6 538.8,249.0 539.3,244.7 540.0,253.6 540.6,262.4 541.0,262.5"/>
<text x="430.2" y="237.8" font-size="6.6" font-weight="bold" text-anchor="middle" textLength="55.6" lengthAdjust="spacingAndGlyphs" fill="#111">Original clean ECG</text>
<rect x="321.3" y="304.5" width="219.7" height="42.2" fill="none" stroke="#6a6a6a" stroke-width="1"/>
<path d="M321.3 346.7 v-2.2 M321.3 304.5 v2.2" stroke="#6a6a6a" stroke-width="0.8"/>
<text x="321.3" y="355.3" font-size="6.3" text-anchor="middle" textLength="3.11" lengthAdjust="spacingAndGlyphs" fill="#151515">0</text>
<path d="M352.7 346.7 v-2.2 M352.7 304.5 v2.2" stroke="#6a6a6a" stroke-width="0.8"/>
<text x="352.7" y="355.3" font-size="6.3" text-anchor="middle" textLength="3.11" lengthAdjust="spacingAndGlyphs" fill="#151515">2</text>
<path d="M384.1 346.7 v-2.2 M384.1 304.5 v2.2" stroke="#6a6a6a" stroke-width="0.8"/>
<text x="384.1" y="355.3" font-size="6.3" text-anchor="middle" textLength="3.11" lengthAdjust="spacingAndGlyphs" fill="#151515">4</text>
<path d="M415.5 346.7 v-2.2 M415.5 304.5 v2.2" stroke="#6a6a6a" stroke-width="0.8"/>
<text x="415.5" y="355.3" font-size="6.3" text-anchor="middle" textLength="3.11" lengthAdjust="spacingAndGlyphs" fill="#151515">6</text>
<path d="M446.8 346.7 v-2.2 M446.8 304.5 v2.2" stroke="#6a6a6a" stroke-width="0.8"/>
<text x="446.8" y="355.3" font-size="6.3" text-anchor="middle" textLength="3.11" lengthAdjust="spacingAndGlyphs" fill="#151515">8</text>
<path d="M478.2 346.7 v-2.2 M478.2 304.5 v2.2" stroke="#6a6a6a" stroke-width="0.8"/>
<text x="478.2" y="355.3" font-size="6.3" text-anchor="middle" textLength="6.23" lengthAdjust="spacingAndGlyphs" fill="#151515">10</text>
<path d="M509.6 346.7 v-2.2 M509.6 304.5 v2.2" stroke="#6a6a6a" stroke-width="0.8"/>
<text x="509.6" y="355.3" font-size="6.3" text-anchor="middle" textLength="6.23" lengthAdjust="spacingAndGlyphs" fill="#151515">12</text>
<path d="M541.0 346.7 v-2.2 M541.0 304.5 v2.2" stroke="#6a6a6a" stroke-width="0.8"/>
<text x="541.0" y="355.3" font-size="6.3" text-anchor="middle" textLength="6.23" lengthAdjust="spacingAndGlyphs" fill="#151515">14</text>
<path d="M321.3 345.7 h2.2 M541.0 345.7 h-2.2" stroke="#6a6a6a" stroke-width="0.8"/>
<text x="319.5" y="348.0" font-size="6.3" text-anchor="end" textLength="4.98" lengthAdjust="spacingAndGlyphs" fill="#151515">-1</text>
<path d="M321.3 332.0 h2.2 M541.0 332.0 h-2.2" stroke="#6a6a6a" stroke-width="0.8"/>
<text x="319.5" y="334.3" font-size="6.3" text-anchor="end" textLength="3.11" lengthAdjust="spacingAndGlyphs" fill="#151515">0</text>
<path d="M321.3 318.2 h2.2 M541.0 318.2 h-2.2" stroke="#6a6a6a" stroke-width="0.8"/>
<text x="319.5" y="320.5" font-size="6.3" text-anchor="end" textLength="3.11" lengthAdjust="spacingAndGlyphs" fill="#151515">1</text>
<path d="M321.3 304.5 h2.2 M541.0 304.5 h-2.2" stroke="#6a6a6a" stroke-width="0.8"/>
<text x="319.5" y="306.8" font-size="6.3" text-anchor="end" textLength="3.11" lengthAdjust="spacingAndGlyphs" fill="#151515">2</text>
<polyline fill="none" stroke="#ff0000" stroke-width="0.95" stroke-linejoin="round" filter="url(#bl)" points="321.3,334.8 322.0,329.5 322.6,324.9 323.2,327.2 323.8,332.2 324.4,336.9 325.1,338.6 325.7,336.1 326.3,331.1 326.9,328.4 327.6,330.7 328.2,330.1 328.8,327.9 329.5,326.3 330.1,325.4 330.6,329.1 331.1,336.7 331.7,340.3 332.2,338.3 332.7,333.4 333.3,326.9 333.8,321.9 334.3,320.3 334.9,323.5 335.6,331.4 336.2,339.3 336.8,342.3 337.4,339.5 338.0,333.6 338.5,327.5 339.1,324.1 339.8,327.2 340.4,331.3 340.9,330.0 341.5,328.3 342.0,330.3 342.5,333.8 343.1,337.4 343.6,339.4 344.2,336.7 344.7,330.8 345.3,324.5 345.8,319.3 346.4,317.3 347.0,321.0 347.6,329.5 348.1,338.5 348.7,342.3 349.3,339.0 349.9,331.8 350.5,325.2 351.1,322.3 351.6,323.6 352.1,328.5 352.7,333.5 353.2,335.2 353.8,334.2 354.4,332.9 354.9,332.6 355.3,333.3 355.9,331.7 356.5,328.1 357.1,324.4 357.7,321.5 358.3,319.5 358.9,322.9 359.5,332.0 360.1,339.8 360.7,342.8 361.3,339.6 361.9,331.2 362.5,322.9 363.1,319.1 363.7,320.7 364.2,325.1 364.7,330.5 365.3,335.1 365.8,337.6 366.3,336.6 366.9,334.1 367.4,331.6 367.9,331.1 368.5,330.3 369.0,328.8 369.6,325.8 370.3,323.3 370.9,326.6 371.5,334.0 372.1,341.4 372.7,344.8 373.3,341.4 374.0,332.0 374.6,323.3 375.2,319.8 375.7,320.9 376.2,325.3 376.7,331.1 377.2,335.0 377.7,336.7 378.4,335.5 379.0,332.7 379.7,331.0 380.5,332.0 381.1,330.8 381.6,326.6 382.1,322.6 382.7,320.6 383.2,324.1 383.7,334.0 384.3,343.0 384.8,346.4 385.3,343.4 385.8,335.8 386.3,327.9 386.8,321.2 387.3,318.3 387.9,321.8 388.4,329.2 388.9,336.4 389.5,339.4 390.1,337.3 390.8,333.2 391.4,331.5 392.3,334.4 392.8,332.0 393.4,327.0 394.0,321.9 394.6,319.2 395.2,322.2 395.8,331.5 396.4,341.4 396.9,344.9 397.5,341.6 398.1,334.9 398.6,327.9 399.2,321.9 399.7,319.5 400.3,322.8 400.9,330.2 401.5,337.3 402.1,340.4 402.7,338.6 403.3,334.8 404.0,333.1 404.7,333.2 405.3,331.1 405.8,326.7 406.3,321.8 406.9,319.2 407.5,322.6 408.1,331.7 408.7,341.3 409.3,345.7 409.8,343.2 410.3,336.1 410.9,327.3 411.4,321.0 411.9,318.6 412.5,321.2 413.1,328.4 413.7,336.0 414.3,339.0 414.9,336.9 415.4,333.7 415.9,332.4 416.5,334.5 417.0,336.3 417.6,333.7 418.2,327.5 418.8,321.7 419.3,319.4 419.9,320.9 420.5,327.1 421.0,335.1 421.6,341.4 422.1,343.9 422.7,340.5 423.3,332.8 423.9,325.4 424.5,322.7 425.0,324.4 425.5,326.4 426.1,326.9 426.6,327.3 427.1,329.1 427.7,330.1 428.3,331.6 428.8,335.1 429.4,338.8 430.0,340.6 430.6,336.9 431.2,327.8 431.9,318.9 432.5,315.8 433.1,319.8 433.7,328.7 434.3,339.2 434.9,343.9 435.5,339.7 436.1,333.2 436.7,330.8 437.5,332.9 438.1,330.4 438.7,325.5 439.3,320.6 439.9,318.0 440.5,319.7 441.0,326.4 441.5,334.6 442.1,340.7 442.6,343.2 443.1,340.8 443.7,335.3 444.2,328.4 444.7,323.0 445.3,321.8 445.8,323.3 446.3,325.7 446.9,329.2 447.4,332.3 447.9,332.6 448.5,332.8 449.0,333.6 449.5,338.4 450.1,342.5 450.7,339.6 451.3,332.4 451.9,323.4 452.5,316.6 453.1,314.2 453.6,318.5 454.1,328.0 454.7,337.3 455.2,341.2 455.7,340.2 456.3,336.9 456.8,332.5 457.3,330.7 458.1,330.9 458.7,330.4 459.3,327.9 459.9,325.0 460.5,323.9 461.1,327.3 461.7,334.9 462.3,342.5 462.9,345.2 463.5,337.0 464.1,322.4 464.8,315.0 465.3,314.6 465.9,317.0 466.4,324.0 466.9,332.5 467.5,339.3 468.0,341.9 468.7,337.7 469.5,332.8 470.3,336.7 470.9,334.6 471.4,329.1 471.9,322.2 472.5,316.2 473.0,314.3 473.5,317.7 474.1,325.7 474.6,334.9 475.1,341.8 475.7,345.0 476.3,343.6 476.9,338.2 477.5,331.3 478.1,325.8 478.7,323.5 479.2,324.8 479.8,327.3 480.4,329.7 481.0,331.2 481.6,332.8 482.2,336.9 482.8,341.7 483.3,344.3 483.9,341.2 484.5,332.9 485.0,323.3 485.6,315.2 486.1,311.5 486.6,314.6 487.1,323.3 487.7,332.6 488.2,339.6 488.7,342.5 489.3,340.4 489.9,335.7 490.5,331.5 491.1,329.1 491.7,328.0 492.2,326.4 492.7,324.7 493.3,323.7 493.8,325.2 494.4,330.4 495.0,337.9 495.6,343.7 496.1,345.1 496.7,341.9 497.3,334.2 497.8,325.3 498.4,318.6 498.9,315.9 499.4,318.7 499.9,324.7 500.5,332.0 501.0,338.2 501.5,340.0 502.2,337.2 502.9,333.8 503.6,335.9 504.1,334.1 504.7,329.3 505.2,323.3 505.7,318.2 506.3,316.4 506.8,319.7 507.3,326.9 507.9,335.5 508.4,342.6 508.9,345.4 509.5,343.8 510.1,337.9 510.7,329.8 511.2,323.6 511.8,321.1 512.5,324.4 513.1,331.6 513.7,335.5 514.3,336.1 514.8,336.0 515.3,337.4 515.9,340.9 516.4,342.7 517.0,338.1 517.6,326.9 518.2,315.9 518.9,311.6 519.4,315.1 519.9,322.9 520.4,332.8 520.9,340.4 521.4,343.1 522.0,341.4 522.6,337.3 523.3,333.3 523.9,331.2 524.4,330.4 525.0,325.8 525.7,321.5 526.3,324.1 526.9,329.7 527.5,336.6 528.1,342.0 528.7,343.9 529.3,341.7 529.9,334.4 530.5,325.5 531.1,319.0 531.7,316.5 532.2,320.1 532.8,328.8 533.4,337.0 534.0,340.9 534.5,339.5 535.1,335.5 535.6,333.7 536.3,339.5 536.9,336.9 537.5,329.6 538.1,321.0 538.7,314.5 539.3,312.0 540.0,323.0 540.6,333.6 541.0,338.3"/>
<text x="429.9" y="301.9" font-size="6.6" font-weight="bold" text-anchor="middle" textLength="70.9" lengthAdjust="spacingAndGlyphs" fill="#111">CPR-contaminated ECG</text>
<rect x="321.3" y="367.8" width="219.7" height="42.3" fill="none" stroke="#6a6a6a" stroke-width="1"/>
<path d="M321.3 410.1 v-2.2 M321.3 367.8 v2.2" stroke="#6a6a6a" stroke-width="0.8"/>
<text x="321.3" y="418.7" font-size="6.3" text-anchor="middle" textLength="3.11" lengthAdjust="spacingAndGlyphs" fill="#151515">0</text>
<path d="M352.7 410.1 v-2.2 M352.7 367.8 v2.2" stroke="#6a6a6a" stroke-width="0.8"/>
<text x="352.7" y="418.7" font-size="6.3" text-anchor="middle" textLength="3.11" lengthAdjust="spacingAndGlyphs" fill="#151515">2</text>
<path d="M384.1 410.1 v-2.2 M384.1 367.8 v2.2" stroke="#6a6a6a" stroke-width="0.8"/>
<text x="384.1" y="418.7" font-size="6.3" text-anchor="middle" textLength="3.11" lengthAdjust="spacingAndGlyphs" fill="#151515">4</text>
<path d="M415.5 410.1 v-2.2 M415.5 367.8 v2.2" stroke="#6a6a6a" stroke-width="0.8"/>
<text x="415.5" y="418.7" font-size="6.3" text-anchor="middle" textLength="3.11" lengthAdjust="spacingAndGlyphs" fill="#151515">6</text>
<path d="M446.8 410.1 v-2.2 M446.8 367.8 v2.2" stroke="#6a6a6a" stroke-width="0.8"/>
<text x="446.8" y="418.7" font-size="6.3" text-anchor="middle" textLength="3.11" lengthAdjust="spacingAndGlyphs" fill="#151515">8</text>
<path d="M478.2 410.1 v-2.2 M478.2 367.8 v2.2" stroke="#6a6a6a" stroke-width="0.8"/>
<text x="478.2" y="418.7" font-size="6.3" text-anchor="middle" textLength="6.23" lengthAdjust="spacingAndGlyphs" fill="#151515">10</text>
<path d="M509.6 410.1 v-2.2 M509.6 367.8 v2.2" stroke="#6a6a6a" stroke-width="0.8"/>
<text x="509.6" y="418.7" font-size="6.3" text-anchor="middle" textLength="6.23" lengthAdjust="spacingAndGlyphs" fill="#151515">12</text>
<path d="M541.0 410.1 v-2.2 M541.0 367.8 v2.2" stroke="#6a6a6a" stroke-width="0.8"/>
<text x="541.0" y="418.7" font-size="6.3" text-anchor="middle" textLength="6.23" lengthAdjust="spacingAndGlyphs" fill="#151515">14</text>
<path d="M321.3 410.1 h2.2 M541.0 410.1 h-2.2" stroke="#6a6a6a" stroke-width="0.8"/>
<text x="319.5" y="412.4" font-size="6.3" text-anchor="end" textLength="4.98" lengthAdjust="spacingAndGlyphs" fill="#151515">-1</text>
<path d="M321.3 389.0 h2.2 M541.0 389.0 h-2.2" stroke="#6a6a6a" stroke-width="0.8"/>
<text x="319.5" y="391.3" font-size="6.3" text-anchor="end" textLength="3.11" lengthAdjust="spacingAndGlyphs" fill="#151515">0</text>
<path d="M321.3 367.8 h2.2 M541.0 367.8 h-2.2" stroke="#6a6a6a" stroke-width="0.8"/>
<text x="319.5" y="370.1" font-size="6.3" text-anchor="end" textLength="3.11" lengthAdjust="spacingAndGlyphs" fill="#151515">1</text>
<polyline fill="none" stroke="#008a00" stroke-width="0.95" stroke-linejoin="round" filter="url(#bl)" points="321.3,409.0 321.5,409.4 322.1,392.2 322.7,388.5 323.3,384.5 324.0,387.3 324.7,390.5 325.3,387.6 325.8,381.4 326.3,378.3 327.0,382.6 327.6,390.7 328.3,394.6 328.8,392.5 329.3,388.1 329.9,384.0 330.4,382.0 331.0,388.9 331.7,396.3 332.3,393.5 332.8,385.9 333.4,378.2 334.0,375.1 334.6,377.9 335.2,384.8 335.8,393.0 336.4,399.6 337.0,402.1 337.5,396.5 338.1,385.6 338.6,379.8 339.1,381.5 339.7,386.4 340.2,391.3 340.7,393.4 341.3,390.1 341.9,383.5 342.5,380.7 343.1,383.4 343.6,389.4 344.1,395.9 344.7,398.6 345.3,393.4 346.0,382.0 346.6,375.8 347.1,378.8 347.7,385.4 348.2,390.7 348.7,393.0 349.3,389.5 349.8,380.9 350.3,376.0 350.9,379.8 351.6,388.8 352.2,397.5 352.8,400.8 353.3,397.2 353.9,389.3 354.4,380.9 354.9,377.2 355.5,379.4 356.1,385.0 356.7,390.7 357.3,392.4 357.8,389.4 358.3,383.8 358.9,380.5 359.4,382.5 359.9,388.5 360.5,394.9 361.0,397.5 361.5,394.1 362.1,387.1 362.6,380.6 363.1,378.0 363.7,382.4 364.3,390.2 364.9,394.2 365.6,390.4 366.2,382.6 366.9,378.9 367.5,383.0 368.1,391.3 368.8,395.3 369.0,393.2 369.6,390.3 370.3,384.2 370.9,381.0 371.5,384.0 372.1,390.8 372.7,394.9 373.3,393.4 373.8,388.6 374.3,384.1 374.9,382.5 375.5,386.1 376.1,393.5 376.7,397.3 377.3,393.7 377.9,385.6 378.5,378.3 379.1,375.2 379.7,380.6 380.3,391.7 380.9,397.1 381.5,394.8 382.0,388.4 382.5,381.9 383.1,379.6 383.7,384.2 384.4,393.0 385.0,397.1 385.5,393.8 386.1,387.1 386.6,381.3 387.1,378.9 387.7,381.0 388.2,387.1 388.7,393.6 389.3,395.9 389.9,391.1 390.5,382.7 391.2,378.3 391.8,383.4 392.4,393.8 393.0,398.7 393.5,395.4 394.1,387.3 394.6,379.8 395.1,377.0 395.7,379.6 396.2,386.6 396.7,393.6 397.3,396.3 397.8,394.1 398.3,389.2 398.9,384.7 399.4,382.7 399.9,386.4 400.5,393.7 401.0,397.6 401.6,394.9 402.2,387.8 402.8,381.3 403.3,378.5 404.0,382.9 404.6,391.6 405.3,396.0 405.8,393.0 406.3,385.7 406.9,378.9 407.4,376.6 408.0,382.2 408.7,392.2 409.3,396.7 409.9,393.7 410.4,386.6 410.9,379.9 411.5,377.4 412.0,379.8 412.5,386.7 413.1,394.0 413.6,396.9 414.2,393.9 414.8,387.4 415.3,381.2 415.9,378.6 416.5,380.9 417.0,382.8 417.5,389.9 418.1,397.8 418.7,393.5 419.3,384.4 420.0,380.0 420.6,384.1 421.2,392.4 421.8,396.6 422.3,393.9 422.9,387.6 423.4,381.0 423.9,378.4 424.5,380.8 425.0,386.4 425.5,391.8 426.1,393.9 426.6,391.6 427.1,386.4 427.7,381.0 428.2,379.2 428.7,382.5 429.3,389.0 429.8,395.5 430.3,398.6 430.9,395.7 431.4,388.1 431.9,380.5 432.5,377.1 433.0,380.1 433.5,387.3 434.1,394.1 434.6,396.9 435.2,392.0 435.8,382.2 436.4,377.0 437.1,381.4 437.7,391.1 438.3,396.4 439.0,391.7 439.6,381.3 440.3,376.6 440.8,379.9 441.4,386.1 442.0,392.1 442.6,394.8 443.2,391.5 443.9,384.3 444.5,379.9 445.1,382.3 445.7,388.8 446.3,395.1 446.9,397.3 447.5,392.4 448.1,384.3 448.8,380.3 449.3,382.9 449.9,389.5 450.4,396.6 450.9,399.3 451.5,395.5 452.0,387.9 452.5,380.7 453.1,377.6 453.7,381.5 454.3,390.1 454.9,394.5 455.5,390.6 456.1,381.8 456.7,376.5 457.3,382.1 458.0,393.6 458.6,399.8 459.2,397.3 459.8,390.9 460.4,384.7 460.9,382.2 461.6,385.6 462.2,391.3 462.9,393.5 463.4,388.8 463.9,379.5 464.5,374.8 465.0,375.4 465.5,375.5 466.1,381.8 466.7,395.5 467.3,402.4 467.9,399.1 468.4,390.3 468.9,381.0 469.5,377.3 470.1,382.3 470.8,392.5 471.4,397.0 472.0,391.1 472.7,381.2 473.3,376.4 473.9,379.1 474.4,385.9 474.9,392.6 475.5,395.6 476.0,394.2 476.5,389.6 477.1,384.5 477.6,382.7 478.2,384.1 478.8,387.6 479.3,391.4 479.9,392.7 480.6,389.1 481.2,382.0 481.9,378.9 482.4,381.9 482.9,388.6 483.5,395.2 484.0,397.8 484.5,394.4 485.1,386.4 485.6,378.1 486.1,374.7 486.7,380.2 487.3,390.4 487.9,395.4 488.5,392.9 489.0,386.3 489.5,379.3 490.1,376.4 490.6,379.2 491.1,386.7 491.7,394.2 492.2,397.0 492.7,394.8 493.3,389.9 493.8,384.6 494.3,382.1 494.9,383.8 495.4,388.3 495.9,393.5 496.5,396.2 497.0,394.0 497.5,387.9 498.1,382.3 498.6,380.3 499.1,382.4 499.7,388.2 500.2,394.5 500.7,397.1 501.3,390.9 501.9,378.8 502.5,372.9 503.1,376.9 503.6,385.8 504.1,395.1 504.7,399.3 505.2,396.3 505.7,389.2 506.3,382.6 506.8,380.2 507.4,384.2 508.0,392.3 508.6,396.6 509.1,394.9 509.7,389.4 510.2,383.1 510.7,380.8 511.4,385.0 512.0,393.4 512.7,397.2 513.2,394.5 513.7,389.3 514.3,384.4 514.8,381.9 515.3,384.2 515.9,391.2 516.4,397.3 516.9,399.2 517.6,392.2 518.2,379.5 518.9,373.1 519.5,379.3 520.1,392.6 520.7,399.0 521.2,396.1 521.7,390.1 522.3,383.9 522.8,381.1 523.4,384.9 524.0,392.7 524.6,396.6 525.3,392.5 525.9,384.4 526.5,380.1 527.1,381.9 527.6,386.9 528.1,391.9 528.7,393.7 529.3,391.5 529.8,386.7 530.4,382.3 531.0,380.1 531.5,382.3 532.1,388.6 532.6,395.4 533.1,398.3 533.8,394.1 534.4,384.7 535.0,375.7 535.6,372.1 536.1,375.0 536.7,383.2 537.2,393.9 537.7,402.1 538.3,404.8 538.8,399.6 539.3,389.4 539.9,383.8 540.4,384.6 540.9,386.1 541.0,386.3"/>
<text x="428.1" y="365.2" font-size="6.6" font-weight="bold" text-anchor="middle" textLength="84.3" lengthAdjust="spacingAndGlyphs" fill="#111">Output of proposed algorithm</text>
<text x="431.9" y="428.1" font-size="8.8" font-weight="bold" text-anchor="middle" textLength="40" lengthAdjust="spacingAndGlyphs" fill="#111">Time (sec)</text>
<text transform="translate(304.0,325.3) rotate(-90)" font-size="8.6" font-weight="bold" text-anchor="middle" textLength="59.8" lengthAdjust="spacingAndGlyphs" fill="#111">Amplitude (mV)</text>
<text class="lab" x="423.5" y="445.0" font-size="11.5" font-weight="bold" text-anchor="middle" fill="#111">(d)</text>
</svg>
</body></html>
